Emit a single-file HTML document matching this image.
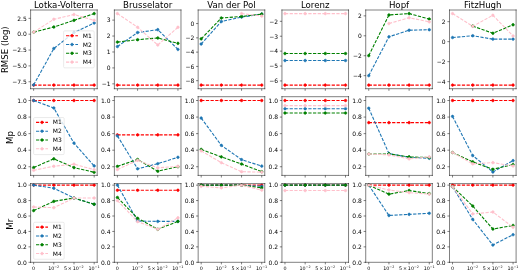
<!DOCTYPE html>
<html><head><meta charset="utf-8"><title>figure</title>
<style>
html,body{margin:0;padding:0;background:#fff;}
body{width:520px;height:272px;overflow:hidden;}
svg{display:block;}

</style></head><body>
<svg width="520" height="272" viewBox="0 0 520 272" version="1.1">
<defs>
<style type="text/css">*{stroke-linejoin: round; stroke-linecap: butt}</style>
</defs>
<g id="figure_1">
<g id="patch_1">
<path d="M 0 272
L 520 272
L 520 0
L 0 0
z
" style="fill: #ffffff"/>
</g>
<g id="axes_1">
<g id="patch_2">
<path d="M 30.6 88.7
L 97.2 88.7
L 97.2 10
L 30.6 10
z
" style="fill: #ffffff"/>
</g>
<g id="matplotlib.axis_1">
<g id="xtick_1">
<g id="line2d_1">
<defs>
<path id="mc1e7c72a07" d="M 0 0
L 0 2.1
" style="stroke: #000000; stroke-width: 0.5"/>
</defs>
<g>
<use href="#mc1e7c72a07" x="33.627273" y="88.7" style="stroke: #000000; stroke-width: 0.5"/>
</g>
</g>
</g>
<g id="xtick_2">
<g id="line2d_2">
<g>
<use href="#mc1e7c72a07" x="53.809091" y="88.7" style="stroke: #000000; stroke-width: 0.5"/>
</g>
</g>
</g>
<g id="xtick_3">
<g id="line2d_3">
<g>
<use href="#mc1e7c72a07" x="73.990909" y="88.7" style="stroke: #000000; stroke-width: 0.5"/>
</g>
</g>
</g>
<g id="xtick_4">
<g id="line2d_4">
<g>
<use href="#mc1e7c72a07" x="94.172727" y="88.7" style="stroke: #000000; stroke-width: 0.5"/>
</g>
</g>
</g>
</g>
<g id="matplotlib.axis_2">
<g id="ytick_1">
<g id="line2d_5">
<defs>
<path id="mff083b0342" d="M 0 0
L -2.1 0
" style="stroke: #000000; stroke-width: 0.5"/>
</defs>
<g>
<use href="#mff083b0342" x="30.6" y="81.761106" style="stroke: #000000; stroke-width: 0.5"/>
</g>
</g>
<g id="text_1">
<text style="font-size: 6px; font-family: 'DejaVu Sans', sans-serif; text-anchor: end" x="26.8" y="84.040637" transform="rotate(-0 26.8 84.040637)">−7.5</text>
</g>
</g>
<g id="ytick_2">
<g id="line2d_6">
<g>
<use href="#mff083b0342" x="30.6" y="65.9044" style="stroke: #000000; stroke-width: 0.5"/>
</g>
</g>
<g id="text_2">
<text style="font-size: 6px; font-family: 'DejaVu Sans', sans-serif; text-anchor: end" x="26.8" y="68.183932" transform="rotate(-0 26.8 68.183932)">−5.0</text>
</g>
</g>
<g id="ytick_3">
<g id="line2d_7">
<g>
<use href="#mff083b0342" x="30.6" y="50.047695" style="stroke: #000000; stroke-width: 0.5"/>
</g>
</g>
<g id="text_3">
<text style="font-size: 6px; font-family: 'DejaVu Sans', sans-serif; text-anchor: end" x="26.8" y="52.327226" transform="rotate(-0 26.8 52.327226)">−2.5</text>
</g>
</g>
<g id="ytick_4">
<g id="line2d_8">
<g>
<use href="#mff083b0342" x="30.6" y="34.19099" style="stroke: #000000; stroke-width: 0.5"/>
</g>
</g>
<g id="text_4">
<text style="font-size: 6px; font-family: 'DejaVu Sans', sans-serif; text-anchor: end" x="26.8" y="36.470521" transform="rotate(-0 26.8 36.470521)">0.0</text>
</g>
</g>
<g id="ytick_5">
<g id="line2d_9">
<g>
<use href="#mff083b0342" x="30.6" y="18.334284" style="stroke: #000000; stroke-width: 0.5"/>
</g>
</g>
<g id="text_5">
<text style="font-size: 6px; font-family: 'DejaVu Sans', sans-serif; text-anchor: end" x="26.8" y="20.613816" transform="rotate(-0 26.8 20.613816)">2.5</text>
</g>
</g>
<g id="text_6">
<text style="font-size: 8.6px; font-family: 'DejaVu Sans', sans-serif; text-anchor: middle" x="8.091781" y="49.7" transform="rotate(-90 8.091781 49.7)">RMSE (log)</text>
</g>
</g>
<g id="line2d_10">
<path d="M 33.627273 85.122727
L 53.809091 85.122727
L 73.990909 85.122727
L 94.172727 85.122727
" clip-path="url(#p066afcdd0b)" style="fill: none; stroke-dasharray: 3.26,1.41; stroke-dashoffset: 0; stroke: #ff0000; stroke-width: 1.1"/>
<defs>
<path id="m0c2da7bb96" d="M 0 1.3
C 0.344764 1.3 0.675454 1.163024 0.919239 0.919239
C 1.163024 0.675454 1.3 0.344764 1.3 0
C 1.3 -0.344764 1.163024 -0.675454 0.919239 -0.919239
C 0.675454 -1.163024 0.344764 -1.3 0 -1.3
C -0.344764 -1.3 -0.675454 -1.163024 -0.919239 -0.919239
C -1.163024 -0.675454 -1.3 -0.344764 -1.3 0
C -1.3 0.344764 -1.163024 0.675454 -0.919239 0.919239
C -0.675454 1.163024 -0.344764 1.3 0 1.3
z
" style="stroke: #ff0000; stroke-width: 0.6"/>
</defs>
<g clip-path="url(#p066afcdd0b)">
<use href="#m0c2da7bb96" x="33.627273" y="85.122727" style="fill: #ff0000; stroke: #ff0000; stroke-width: 0.6"/>
<use href="#m0c2da7bb96" x="53.809091" y="85.122727" style="fill: #ff0000; stroke: #ff0000; stroke-width: 0.6"/>
<use href="#m0c2da7bb96" x="73.990909" y="85.122727" style="fill: #ff0000; stroke: #ff0000; stroke-width: 0.6"/>
<use href="#m0c2da7bb96" x="94.172727" y="85.122727" style="fill: #ff0000; stroke: #ff0000; stroke-width: 0.6"/>
</g>
</g>
<g id="line2d_11">
<path d="M 33.627273 84.932447
L 53.809091 48.525451
L 73.990909 32.541892
L 94.172727 23.027869
" clip-path="url(#p066afcdd0b)" style="fill: none; stroke-dasharray: 3.26,1.41; stroke-dashoffset: 0; stroke: #1f77b4; stroke-width: 1.1"/>
<defs>
<path id="mdfa1281d99" d="M 0 1.3
C 0.344764 1.3 0.675454 1.163024 0.919239 0.919239
C 1.163024 0.675454 1.3 0.344764 1.3 0
C 1.3 -0.344764 1.163024 -0.675454 0.919239 -0.919239
C 0.675454 -1.163024 0.344764 -1.3 0 -1.3
C -0.344764 -1.3 -0.675454 -1.163024 -0.919239 -0.919239
C -1.163024 -0.675454 -1.3 -0.344764 -1.3 0
C -1.3 0.344764 -1.163024 0.675454 -0.919239 0.919239
C -0.675454 1.163024 -0.344764 1.3 0 1.3
z
" style="stroke: #1f77b4; stroke-width: 0.6"/>
</defs>
<g clip-path="url(#p066afcdd0b)">
<use href="#mdfa1281d99" x="33.627273" y="84.932447" style="fill: #1f77b4; stroke: #1f77b4; stroke-width: 0.6"/>
<use href="#mdfa1281d99" x="53.809091" y="48.525451" style="fill: #1f77b4; stroke: #1f77b4; stroke-width: 0.6"/>
<use href="#mdfa1281d99" x="73.990909" y="32.541892" style="fill: #1f77b4; stroke: #1f77b4; stroke-width: 0.6"/>
<use href="#mdfa1281d99" x="94.172727" y="23.027869" style="fill: #1f77b4; stroke: #1f77b4; stroke-width: 0.6"/>
</g>
</g>
<g id="line2d_12">
<path d="M 33.627273 32.161331
L 53.809091 27.023759
L 73.990909 20.363943
L 94.172727 13.577273
" clip-path="url(#p066afcdd0b)" style="fill: none; stroke-dasharray: 3.26,1.41; stroke-dashoffset: 0; stroke: #008000; stroke-width: 1.1"/>
<defs>
<path id="mad946ed612" d="M 0 1.3
C 0.344764 1.3 0.675454 1.163024 0.919239 0.919239
C 1.163024 0.675454 1.3 0.344764 1.3 0
C 1.3 -0.344764 1.163024 -0.675454 0.919239 -0.919239
C 0.675454 -1.163024 0.344764 -1.3 0 -1.3
C -0.344764 -1.3 -0.675454 -1.163024 -0.919239 -0.919239
C -1.163024 -0.675454 -1.3 -0.344764 -1.3 0
C -1.3 0.344764 -1.163024 0.675454 -0.919239 0.919239
C -0.675454 1.163024 -0.344764 1.3 0 1.3
z
" style="stroke: #008000; stroke-width: 0.6"/>
</defs>
<g clip-path="url(#p066afcdd0b)">
<use href="#mad946ed612" x="33.627273" y="32.161331" style="fill: #008000; stroke: #008000; stroke-width: 0.6"/>
<use href="#mad946ed612" x="53.809091" y="27.023759" style="fill: #008000; stroke: #008000; stroke-width: 0.6"/>
<use href="#mad946ed612" x="73.990909" y="20.363943" style="fill: #008000; stroke: #008000; stroke-width: 0.6"/>
<use href="#mad946ed612" x="94.172727" y="13.577273" style="fill: #008000; stroke: #008000; stroke-width: 0.6"/>
</g>
</g>
<g id="line2d_13">
<path d="M 33.627273 32.161331
L 53.809091 19.285687
L 73.990909 14.528675
L 94.172727 20.363943
" clip-path="url(#p066afcdd0b)" style="fill: none; stroke-dasharray: 3.26,1.41; stroke-dashoffset: 0; stroke: #ffc0cb; stroke-width: 1.1"/>
<defs>
<path id="mf36503d7b8" d="M 0 1.3
C 0.344764 1.3 0.675454 1.163024 0.919239 0.919239
C 1.163024 0.675454 1.3 0.344764 1.3 0
C 1.3 -0.344764 1.163024 -0.675454 0.919239 -0.919239
C 0.675454 -1.163024 0.344764 -1.3 0 -1.3
C -0.344764 -1.3 -0.675454 -1.163024 -0.919239 -0.919239
C -1.163024 -0.675454 -1.3 -0.344764 -1.3 0
C -1.3 0.344764 -1.163024 0.675454 -0.919239 0.919239
C -0.675454 1.163024 -0.344764 1.3 0 1.3
z
" style="stroke: #ffc0cb; stroke-width: 0.6"/>
</defs>
<g clip-path="url(#p066afcdd0b)">
<use href="#mf36503d7b8" x="33.627273" y="32.161331" style="fill: #ffc0cb; stroke: #ffc0cb; stroke-width: 0.6"/>
<use href="#mf36503d7b8" x="53.809091" y="19.285687" style="fill: #ffc0cb; stroke: #ffc0cb; stroke-width: 0.6"/>
<use href="#mf36503d7b8" x="73.990909" y="14.528675" style="fill: #ffc0cb; stroke: #ffc0cb; stroke-width: 0.6"/>
<use href="#mf36503d7b8" x="94.172727" y="20.363943" style="fill: #ffc0cb; stroke: #ffc0cb; stroke-width: 0.6"/>
</g>
</g>
<g id="patch_3">
<path d="M 30.6 88.7
L 30.6 10
" style="fill: none; stroke: #000000; stroke-width: 0.5; stroke-linejoin: miter; stroke-linecap: square"/>
</g>
<g id="patch_4">
<path d="M 97.2 88.7
L 97.2 10
" style="fill: none; stroke: #000000; stroke-width: 0.5; stroke-linejoin: miter; stroke-linecap: square"/>
</g>
<g id="patch_5">
<path d="M 30.6 88.7
L 97.2 88.7
" style="fill: none; stroke: #000000; stroke-width: 0.5; stroke-linejoin: miter; stroke-linecap: square"/>
</g>
<g id="patch_6">
<path d="M 30.6 10
L 97.2 10
" style="fill: none; stroke: #000000; stroke-width: 0.5; stroke-linejoin: miter; stroke-linecap: square"/>
</g>
<g id="text_7">
<text style="font-size: 8.65px; font-family: 'DejaVu Sans', sans-serif; text-anchor: middle" x="63.9" y="7.6" transform="rotate(-0 63.9 7.6)">Lotka-Volterra</text>
</g>
<g id="legend_1">
<g id="patch_7">
<path d="M 64.805625 67.86375
L 93 67.86375
Q 94.2 67.86375 94.2 66.66375
L 94.2 32.03625
Q 94.2 30.83625 93 30.83625
L 64.805625 30.83625
Q 63.605625 30.83625 63.605625 32.03625
L 63.605625 66.66375
Q 63.605625 67.86375 64.805625 67.86375
z
" style="fill: #ffffff; opacity: 0.8; stroke: #cccccc; stroke-width: 0.5; stroke-linejoin: miter"/>
</g>
<g id="line2d_14">
<path d="M 66.005625 35.695313
L 72.005625 35.695313
L 78.005625 35.695313
" style="fill: none; stroke-dasharray: 3.26,1.41; stroke-dashoffset: 0; stroke: #ff0000; stroke-width: 1.1"/>
<g>
<use href="#m0c2da7bb96" x="72.005625" y="35.695313" style="fill: #ff0000; stroke: #ff0000; stroke-width: 0.6"/>
</g>
</g>
<g id="text_8">
<text style="font-size: 6px; font-family: 'DejaVu Sans', sans-serif; text-anchor: start" x="82.805625" y="37.795313" transform="rotate(-0 82.805625 37.795313)">M1</text>
</g>
<g id="line2d_15">
<path d="M 66.005625 44.502188
L 72.005625 44.502188
L 78.005625 44.502188
" style="fill: none; stroke-dasharray: 3.26,1.41; stroke-dashoffset: 0; stroke: #1f77b4; stroke-width: 1.1"/>
<g>
<use href="#mdfa1281d99" x="72.005625" y="44.502188" style="fill: #1f77b4; stroke: #1f77b4; stroke-width: 0.6"/>
</g>
</g>
<g id="text_9">
<text style="font-size: 6px; font-family: 'DejaVu Sans', sans-serif; text-anchor: start" x="82.805625" y="46.602188" transform="rotate(-0 82.805625 46.602188)">M2</text>
</g>
<g id="line2d_16">
<path d="M 66.005625 53.309063
L 72.005625 53.309063
L 78.005625 53.309063
" style="fill: none; stroke-dasharray: 3.26,1.41; stroke-dashoffset: 0; stroke: #008000; stroke-width: 1.1"/>
<g>
<use href="#mad946ed612" x="72.005625" y="53.309063" style="fill: #008000; stroke: #008000; stroke-width: 0.6"/>
</g>
</g>
<g id="text_10">
<text style="font-size: 6px; font-family: 'DejaVu Sans', sans-serif; text-anchor: start" x="82.805625" y="55.409063" transform="rotate(-0 82.805625 55.409063)">M3</text>
</g>
<g id="line2d_17">
<path d="M 66.005625 62.115938
L 72.005625 62.115938
L 78.005625 62.115938
" style="fill: none; stroke-dasharray: 3.26,1.41; stroke-dashoffset: 0; stroke: #ffc0cb; stroke-width: 1.1"/>
<g>
<use href="#mf36503d7b8" x="72.005625" y="62.115938" style="fill: #ffc0cb; stroke: #ffc0cb; stroke-width: 0.6"/>
</g>
</g>
<g id="text_11">
<text style="font-size: 6px; font-family: 'DejaVu Sans', sans-serif; text-anchor: start" x="82.805625" y="64.215938" transform="rotate(-0 82.805625 64.215938)">M4</text>
</g>
</g>
</g>
<g id="axes_2">
<g id="patch_8">
<path d="M 114.38 88.7
L 180.98 88.7
L 180.98 10
L 114.38 10
z
" style="fill: #ffffff"/>
</g>
<g id="matplotlib.axis_3">
<g id="xtick_5">
<g id="line2d_18">
<g>
<use href="#mc1e7c72a07" x="117.407273" y="88.7" style="stroke: #000000; stroke-width: 0.5"/>
</g>
</g>
</g>
<g id="xtick_6">
<g id="line2d_19">
<g>
<use href="#mc1e7c72a07" x="137.589091" y="88.7" style="stroke: #000000; stroke-width: 0.5"/>
</g>
</g>
</g>
<g id="xtick_7">
<g id="line2d_20">
<g>
<use href="#mc1e7c72a07" x="157.770909" y="88.7" style="stroke: #000000; stroke-width: 0.5"/>
</g>
</g>
</g>
<g id="xtick_8">
<g id="line2d_21">
<g>
<use href="#mc1e7c72a07" x="177.952727" y="88.7" style="stroke: #000000; stroke-width: 0.5"/>
</g>
</g>
</g>
</g>
<g id="matplotlib.axis_4">
<g id="ytick_6">
<g id="line2d_22">
<g>
<use href="#mff083b0342" x="114.38" y="83.847975" style="stroke: #000000; stroke-width: 0.5"/>
</g>
</g>
<g id="text_12">
<text style="font-size: 6px; font-family: 'DejaVu Sans', sans-serif; text-anchor: end" x="110.58" y="86.127507" transform="rotate(-0 110.58 86.127507)">−1</text>
</g>
</g>
<g id="ytick_7">
<g id="line2d_23">
<g>
<use href="#mff083b0342" x="114.38" y="67.913576" style="stroke: #000000; stroke-width: 0.5"/>
</g>
</g>
<g id="text_13">
<text style="font-size: 6px; font-family: 'DejaVu Sans', sans-serif; text-anchor: end" x="110.58" y="70.193107" transform="rotate(-0 110.58 70.193107)">0</text>
</g>
</g>
<g id="ytick_8">
<g id="line2d_24">
<g>
<use href="#mff083b0342" x="114.38" y="51.979176" style="stroke: #000000; stroke-width: 0.5"/>
</g>
</g>
<g id="text_14">
<text style="font-size: 6px; font-family: 'DejaVu Sans', sans-serif; text-anchor: end" x="110.58" y="54.258707" transform="rotate(-0 110.58 54.258707)">1</text>
</g>
</g>
<g id="ytick_9">
<g id="line2d_25">
<g>
<use href="#mff083b0342" x="114.38" y="36.044776" style="stroke: #000000; stroke-width: 0.5"/>
</g>
</g>
<g id="text_15">
<text style="font-size: 6px; font-family: 'DejaVu Sans', sans-serif; text-anchor: end" x="110.58" y="38.324308" transform="rotate(-0 110.58 38.324308)">2</text>
</g>
</g>
<g id="ytick_10">
<g id="line2d_26">
<g>
<use href="#mff083b0342" x="114.38" y="20.110377" style="stroke: #000000; stroke-width: 0.5"/>
</g>
</g>
<g id="text_16">
<text style="font-size: 6px; font-family: 'DejaVu Sans', sans-serif; text-anchor: end" x="110.58" y="22.389908" transform="rotate(-0 110.58 22.389908)">3</text>
</g>
</g>
</g>
<g id="line2d_27">
<path d="M 117.407273 85.122727
L 137.589091 85.122727
L 157.770909 85.122727
L 177.952727 85.122727
" clip-path="url(#pb746cd22af)" style="fill: none; stroke-dasharray: 3.26,1.41; stroke-dashoffset: 0; stroke: #ff0000; stroke-width: 1.1"/>
<g clip-path="url(#pb746cd22af)">
<use href="#m0c2da7bb96" x="117.407273" y="85.122727" style="fill: #ff0000; stroke: #ff0000; stroke-width: 0.6"/>
<use href="#m0c2da7bb96" x="137.589091" y="85.122727" style="fill: #ff0000; stroke: #ff0000; stroke-width: 0.6"/>
<use href="#m0c2da7bb96" x="157.770909" y="85.122727" style="fill: #ff0000; stroke: #ff0000; stroke-width: 0.6"/>
<use href="#m0c2da7bb96" x="177.952727" y="85.122727" style="fill: #ff0000; stroke: #ff0000; stroke-width: 0.6"/>
</g>
</g>
<g id="line2d_28">
<path d="M 117.407273 46.56148
L 137.589091 32.539208
L 157.770909 29.671016
L 177.952727 49.429672
" clip-path="url(#pb746cd22af)" style="fill: none; stroke-dasharray: 3.26,1.41; stroke-dashoffset: 0; stroke: #1f77b4; stroke-width: 1.1"/>
<g clip-path="url(#pb746cd22af)">
<use href="#mdfa1281d99" x="117.407273" y="46.56148" style="fill: #1f77b4; stroke: #1f77b4; stroke-width: 0.6"/>
<use href="#mdfa1281d99" x="137.589091" y="32.539208" style="fill: #1f77b4; stroke: #1f77b4; stroke-width: 0.6"/>
<use href="#mdfa1281d99" x="157.770909" y="29.671016" style="fill: #1f77b4; stroke: #1f77b4; stroke-width: 0.6"/>
<use href="#mdfa1281d99" x="177.952727" y="49.429672" style="fill: #1f77b4; stroke: #1f77b4; stroke-width: 0.6"/>
</g>
</g>
<g id="line2d_29">
<path d="M 117.407273 42.099848
L 137.589091 39.709688
L 157.770909 37.956904
L 177.952727 43.3746
" clip-path="url(#pb746cd22af)" style="fill: none; stroke-dasharray: 3.26,1.41; stroke-dashoffset: 0; stroke: #008000; stroke-width: 1.1"/>
<g clip-path="url(#pb746cd22af)">
<use href="#mad946ed612" x="117.407273" y="42.099848" style="fill: #008000; stroke: #008000; stroke-width: 0.6"/>
<use href="#mad946ed612" x="137.589091" y="39.709688" style="fill: #008000; stroke: #008000; stroke-width: 0.6"/>
<use href="#mad946ed612" x="157.770909" y="37.956904" style="fill: #008000; stroke: #008000; stroke-width: 0.6"/>
<use href="#mad946ed612" x="177.952727" y="43.3746" style="fill: #008000; stroke: #008000; stroke-width: 0.6"/>
</g>
</g>
<g id="line2d_30">
<path d="M 117.407273 13.577273
L 137.589091 27.280856
L 157.770909 44.96804
L 177.952727 27.280856
" clip-path="url(#pb746cd22af)" style="fill: none; stroke-dasharray: 3.26,1.41; stroke-dashoffset: 0; stroke: #ffc0cb; stroke-width: 1.1"/>
<g clip-path="url(#pb746cd22af)">
<use href="#mf36503d7b8" x="117.407273" y="13.577273" style="fill: #ffc0cb; stroke: #ffc0cb; stroke-width: 0.6"/>
<use href="#mf36503d7b8" x="137.589091" y="27.280856" style="fill: #ffc0cb; stroke: #ffc0cb; stroke-width: 0.6"/>
<use href="#mf36503d7b8" x="157.770909" y="44.96804" style="fill: #ffc0cb; stroke: #ffc0cb; stroke-width: 0.6"/>
<use href="#mf36503d7b8" x="177.952727" y="27.280856" style="fill: #ffc0cb; stroke: #ffc0cb; stroke-width: 0.6"/>
</g>
</g>
<g id="patch_9">
<path d="M 114.38 88.7
L 114.38 10
" style="fill: none; stroke: #000000; stroke-width: 0.5; stroke-linejoin: miter; stroke-linecap: square"/>
</g>
<g id="patch_10">
<path d="M 180.98 88.7
L 180.98 10
" style="fill: none; stroke: #000000; stroke-width: 0.5; stroke-linejoin: miter; stroke-linecap: square"/>
</g>
<g id="patch_11">
<path d="M 114.38 88.7
L 180.98 88.7
" style="fill: none; stroke: #000000; stroke-width: 0.5; stroke-linejoin: miter; stroke-linecap: square"/>
</g>
<g id="patch_12">
<path d="M 114.38 10
L 180.98 10
" style="fill: none; stroke: #000000; stroke-width: 0.5; stroke-linejoin: miter; stroke-linecap: square"/>
</g>
<g id="text_17">
<text style="font-size: 8.65px; font-family: 'DejaVu Sans', sans-serif; text-anchor: middle" x="147.68" y="7.6" transform="rotate(-0 147.68 7.6)">Brusselator</text>
</g>
</g>
<g id="axes_3">
<g id="patch_13">
<path d="M 198.16 88.7
L 264.76 88.7
L 264.76 10
L 198.16 10
z
" style="fill: #ffffff"/>
</g>
<g id="matplotlib.axis_5">
<g id="xtick_9">
<g id="line2d_31">
<g>
<use href="#mc1e7c72a07" x="201.187273" y="88.7" style="stroke: #000000; stroke-width: 0.5"/>
</g>
</g>
</g>
<g id="xtick_10">
<g id="line2d_32">
<g>
<use href="#mc1e7c72a07" x="221.369091" y="88.7" style="stroke: #000000; stroke-width: 0.5"/>
</g>
</g>
</g>
<g id="xtick_11">
<g id="line2d_33">
<g>
<use href="#mc1e7c72a07" x="241.550909" y="88.7" style="stroke: #000000; stroke-width: 0.5"/>
</g>
</g>
</g>
<g id="xtick_12">
<g id="line2d_34">
<g>
<use href="#mc1e7c72a07" x="261.732727" y="88.7" style="stroke: #000000; stroke-width: 0.5"/>
</g>
</g>
</g>
</g>
<g id="matplotlib.axis_6">
<g id="ytick_11">
<g id="line2d_35">
<g>
<use href="#mff083b0342" x="198.16" y="80.695763" style="stroke: #000000; stroke-width: 0.5"/>
</g>
</g>
<g id="text_18">
<text style="font-size: 6px; font-family: 'DejaVu Sans', sans-serif; text-anchor: end" x="194.36" y="82.975294" transform="rotate(-0 194.36 82.975294)">−8</text>
</g>
</g>
<g id="ytick_12">
<g id="line2d_36">
<g>
<use href="#mff083b0342" x="198.16" y="66.415233" style="stroke: #000000; stroke-width: 0.5"/>
</g>
</g>
<g id="text_19">
<text style="font-size: 6px; font-family: 'DejaVu Sans', sans-serif; text-anchor: end" x="194.36" y="68.694764" transform="rotate(-0 194.36 68.694764)">−6</text>
</g>
</g>
<g id="ytick_13">
<g id="line2d_37">
<g>
<use href="#mff083b0342" x="198.16" y="52.134703" style="stroke: #000000; stroke-width: 0.5"/>
</g>
</g>
<g id="text_20">
<text style="font-size: 6px; font-family: 'DejaVu Sans', sans-serif; text-anchor: end" x="194.36" y="54.414235" transform="rotate(-0 194.36 54.414235)">−4</text>
</g>
</g>
<g id="ytick_14">
<g id="line2d_38">
<g>
<use href="#mff083b0342" x="198.16" y="37.854173" style="stroke: #000000; stroke-width: 0.5"/>
</g>
</g>
<g id="text_21">
<text style="font-size: 6px; font-family: 'DejaVu Sans', sans-serif; text-anchor: end" x="194.36" y="40.133705" transform="rotate(-0 194.36 40.133705)">−2</text>
</g>
</g>
<g id="ytick_15">
<g id="line2d_39">
<g>
<use href="#mff083b0342" x="198.16" y="23.573644" style="stroke: #000000; stroke-width: 0.5"/>
</g>
</g>
<g id="text_22">
<text style="font-size: 6px; font-family: 'DejaVu Sans', sans-serif; text-anchor: end" x="194.36" y="25.853175" transform="rotate(-0 194.36 25.853175)">0</text>
</g>
</g>
</g>
<g id="line2d_40">
<path d="M 201.187273 85.122727
L 221.369091 85.122727
L 241.550909 85.122727
L 261.732727 85.122727
" clip-path="url(#p86863a7c96)" style="fill: none; stroke-dasharray: 3.26,1.41; stroke-dashoffset: 0; stroke: #ff0000; stroke-width: 1.1"/>
<g clip-path="url(#p86863a7c96)">
<use href="#m0c2da7bb96" x="201.187273" y="85.122727" style="fill: #ff0000; stroke: #ff0000; stroke-width: 0.6"/>
<use href="#m0c2da7bb96" x="221.369091" y="85.122727" style="fill: #ff0000; stroke: #ff0000; stroke-width: 0.6"/>
<use href="#m0c2da7bb96" x="241.550909" y="85.122727" style="fill: #ff0000; stroke: #ff0000; stroke-width: 0.6"/>
<use href="#m0c2da7bb96" x="261.732727" y="85.122727" style="fill: #ff0000; stroke: #ff0000; stroke-width: 0.6"/>
</g>
</g>
<g id="line2d_41">
<path d="M 201.187273 43.994801
L 221.369091 21.502967
L 241.550909 17.076003
L 261.732727 14.148494
" clip-path="url(#p86863a7c96)" style="fill: none; stroke-dasharray: 3.26,1.41; stroke-dashoffset: 0; stroke: #1f77b4; stroke-width: 1.1"/>
<g clip-path="url(#p86863a7c96)">
<use href="#mdfa1281d99" x="201.187273" y="43.994801" style="fill: #1f77b4; stroke: #1f77b4; stroke-width: 0.6"/>
<use href="#mdfa1281d99" x="221.369091" y="21.502967" style="fill: #1f77b4; stroke: #1f77b4; stroke-width: 0.6"/>
<use href="#mdfa1281d99" x="241.550909" y="17.076003" style="fill: #1f77b4; stroke: #1f77b4; stroke-width: 0.6"/>
<use href="#mdfa1281d99" x="261.732727" y="14.148494" style="fill: #1f77b4; stroke: #1f77b4; stroke-width: 0.6"/>
</g>
</g>
<g id="line2d_42">
<path d="M 201.187273 38.853811
L 221.369091 17.968536
L 241.550909 16.46908
L 261.732727 14.148494
" clip-path="url(#p86863a7c96)" style="fill: none; stroke-dasharray: 3.26,1.41; stroke-dashoffset: 0; stroke: #008000; stroke-width: 1.1"/>
<g clip-path="url(#p86863a7c96)">
<use href="#mad946ed612" x="201.187273" y="38.853811" style="fill: #008000; stroke: #008000; stroke-width: 0.6"/>
<use href="#mad946ed612" x="221.369091" y="17.968536" style="fill: #008000; stroke: #008000; stroke-width: 0.6"/>
<use href="#mad946ed612" x="241.550909" y="16.46908" style="fill: #008000; stroke: #008000; stroke-width: 0.6"/>
<use href="#mad946ed612" x="261.732727" y="14.148494" style="fill: #008000; stroke: #008000; stroke-width: 0.6"/>
</g>
</g>
<g id="line2d_43">
<path d="M 241.550909 13.577273
L 261.732727 16.076365
" clip-path="url(#p86863a7c96)" style="fill: none; stroke-dasharray: 3.26,1.41; stroke-dashoffset: 0; stroke: #ffc0cb; stroke-width: 1.1"/>
<g clip-path="url(#p86863a7c96)">
<use href="#mf36503d7b8" x="241.550909" y="13.577273" style="fill: #ffc0cb; stroke: #ffc0cb; stroke-width: 0.6"/>
<use href="#mf36503d7b8" x="261.732727" y="16.076365" style="fill: #ffc0cb; stroke: #ffc0cb; stroke-width: 0.6"/>
</g>
</g>
<g id="patch_14">
<path d="M 198.16 88.7
L 198.16 10
" style="fill: none; stroke: #000000; stroke-width: 0.5; stroke-linejoin: miter; stroke-linecap: square"/>
</g>
<g id="patch_15">
<path d="M 264.76 88.7
L 264.76 10
" style="fill: none; stroke: #000000; stroke-width: 0.5; stroke-linejoin: miter; stroke-linecap: square"/>
</g>
<g id="patch_16">
<path d="M 198.16 88.7
L 264.76 88.7
" style="fill: none; stroke: #000000; stroke-width: 0.5; stroke-linejoin: miter; stroke-linecap: square"/>
</g>
<g id="patch_17">
<path d="M 198.16 10
L 264.76 10
" style="fill: none; stroke: #000000; stroke-width: 0.5; stroke-linejoin: miter; stroke-linecap: square"/>
</g>
<g id="text_23">
<text style="font-size: 8.65px; font-family: 'DejaVu Sans', sans-serif; text-anchor: middle" x="231.46" y="7.6" transform="rotate(-0 231.46 7.6)">Van der Pol</text>
</g>
</g>
<g id="axes_4">
<g id="patch_18">
<path d="M 281.94 88.7
L 348.54 88.7
L 348.54 10
L 281.94 10
z
" style="fill: #ffffff"/>
</g>
<g id="matplotlib.axis_7">
<g id="xtick_13">
<g id="line2d_44">
<g>
<use href="#mc1e7c72a07" x="284.967273" y="88.7" style="stroke: #000000; stroke-width: 0.5"/>
</g>
</g>
</g>
<g id="xtick_14">
<g id="line2d_45">
<g>
<use href="#mc1e7c72a07" x="305.149091" y="88.7" style="stroke: #000000; stroke-width: 0.5"/>
</g>
</g>
</g>
<g id="xtick_15">
<g id="line2d_46">
<g>
<use href="#mc1e7c72a07" x="325.330909" y="88.7" style="stroke: #000000; stroke-width: 0.5"/>
</g>
</g>
</g>
<g id="xtick_16">
<g id="line2d_47">
<g>
<use href="#mc1e7c72a07" x="345.512727" y="88.7" style="stroke: #000000; stroke-width: 0.5"/>
</g>
</g>
</g>
</g>
<g id="matplotlib.axis_8">
<g id="ytick_16">
<g id="line2d_48">
<g>
<use href="#mff083b0342" x="281.94" y="80.949242" style="stroke: #000000; stroke-width: 0.5"/>
</g>
</g>
<g id="text_24">
<text style="font-size: 6px; font-family: 'DejaVu Sans', sans-serif; text-anchor: end" x="278.14" y="83.228774" transform="rotate(-0 278.14 83.228774)">−6</text>
</g>
</g>
<g id="ytick_17">
<g id="line2d_49">
<g>
<use href="#mff083b0342" x="281.94" y="66.043939" style="stroke: #000000; stroke-width: 0.5"/>
</g>
</g>
<g id="text_25">
<text style="font-size: 6px; font-family: 'DejaVu Sans', sans-serif; text-anchor: end" x="278.14" y="68.323471" transform="rotate(-0 278.14 68.323471)">−5</text>
</g>
</g>
<g id="ytick_18">
<g id="line2d_50">
<g>
<use href="#mff083b0342" x="281.94" y="51.138636" style="stroke: #000000; stroke-width: 0.5"/>
</g>
</g>
<g id="text_26">
<text style="font-size: 6px; font-family: 'DejaVu Sans', sans-serif; text-anchor: end" x="278.14" y="53.418168" transform="rotate(-0 278.14 53.418168)">−4</text>
</g>
</g>
<g id="ytick_19">
<g id="line2d_51">
<g>
<use href="#mff083b0342" x="281.94" y="36.233333" style="stroke: #000000; stroke-width: 0.5"/>
</g>
</g>
<g id="text_27">
<text style="font-size: 6px; font-family: 'DejaVu Sans', sans-serif; text-anchor: end" x="278.14" y="38.512865" transform="rotate(-0 278.14 38.512865)">−3</text>
</g>
</g>
<g id="ytick_20">
<g id="line2d_52">
<g>
<use href="#mff083b0342" x="281.94" y="21.32803" style="stroke: #000000; stroke-width: 0.5"/>
</g>
</g>
<g id="text_28">
<text style="font-size: 6px; font-family: 'DejaVu Sans', sans-serif; text-anchor: end" x="278.14" y="23.607562" transform="rotate(-0 278.14 23.607562)">−2</text>
</g>
</g>
</g>
<g id="line2d_53">
<path d="M 284.967273 85.122727
L 305.149091 85.122727
L 325.330909 85.122727
L 345.512727 85.122727
" clip-path="url(#p676d39e075)" style="fill: none; stroke-dasharray: 3.26,1.41; stroke-dashoffset: 0; stroke: #ff0000; stroke-width: 1.1"/>
<g clip-path="url(#p676d39e075)">
<use href="#m0c2da7bb96" x="284.967273" y="85.122727" style="fill: #ff0000; stroke: #ff0000; stroke-width: 0.6"/>
<use href="#m0c2da7bb96" x="305.149091" y="85.122727" style="fill: #ff0000; stroke: #ff0000; stroke-width: 0.6"/>
<use href="#m0c2da7bb96" x="325.330909" y="85.122727" style="fill: #ff0000; stroke: #ff0000; stroke-width: 0.6"/>
<use href="#m0c2da7bb96" x="345.512727" y="85.122727" style="fill: #ff0000; stroke: #ff0000; stroke-width: 0.6"/>
</g>
</g>
<g id="line2d_54">
<path d="M 284.967273 60.528977
L 305.149091 60.528977
L 325.330909 60.528977
L 345.512727 60.528977
" clip-path="url(#p676d39e075)" style="fill: none; stroke-dasharray: 3.26,1.41; stroke-dashoffset: 0; stroke: #1f77b4; stroke-width: 1.1"/>
<g clip-path="url(#p676d39e075)">
<use href="#mdfa1281d99" x="284.967273" y="60.528977" style="fill: #1f77b4; stroke: #1f77b4; stroke-width: 0.6"/>
<use href="#mdfa1281d99" x="305.149091" y="60.528977" style="fill: #1f77b4; stroke: #1f77b4; stroke-width: 0.6"/>
<use href="#mdfa1281d99" x="325.330909" y="60.528977" style="fill: #1f77b4; stroke: #1f77b4; stroke-width: 0.6"/>
<use href="#mdfa1281d99" x="345.512727" y="60.528977" style="fill: #1f77b4; stroke: #1f77b4; stroke-width: 0.6"/>
</g>
</g>
<g id="line2d_55">
<path d="M 284.967273 53.523485
L 305.149091 53.523485
L 325.330909 53.523485
L 345.512727 53.523485
" clip-path="url(#p676d39e075)" style="fill: none; stroke-dasharray: 3.26,1.41; stroke-dashoffset: 0; stroke: #008000; stroke-width: 1.1"/>
<g clip-path="url(#p676d39e075)">
<use href="#mad946ed612" x="284.967273" y="53.523485" style="fill: #008000; stroke: #008000; stroke-width: 0.6"/>
<use href="#mad946ed612" x="305.149091" y="53.523485" style="fill: #008000; stroke: #008000; stroke-width: 0.6"/>
<use href="#mad946ed612" x="325.330909" y="53.523485" style="fill: #008000; stroke: #008000; stroke-width: 0.6"/>
<use href="#mad946ed612" x="345.512727" y="53.523485" style="fill: #008000; stroke: #008000; stroke-width: 0.6"/>
</g>
</g>
<g id="line2d_56">
<path d="M 284.967273 13.577273
L 305.149091 13.577273
L 325.330909 13.577273
L 345.512727 13.577273
" clip-path="url(#p676d39e075)" style="fill: none; stroke-dasharray: 3.26,1.41; stroke-dashoffset: 0; stroke: #ffc0cb; stroke-width: 1.1"/>
<g clip-path="url(#p676d39e075)">
<use href="#mf36503d7b8" x="284.967273" y="13.577273" style="fill: #ffc0cb; stroke: #ffc0cb; stroke-width: 0.6"/>
<use href="#mf36503d7b8" x="305.149091" y="13.577273" style="fill: #ffc0cb; stroke: #ffc0cb; stroke-width: 0.6"/>
<use href="#mf36503d7b8" x="325.330909" y="13.577273" style="fill: #ffc0cb; stroke: #ffc0cb; stroke-width: 0.6"/>
<use href="#mf36503d7b8" x="345.512727" y="13.577273" style="fill: #ffc0cb; stroke: #ffc0cb; stroke-width: 0.6"/>
</g>
</g>
<g id="patch_19">
<path d="M 281.94 88.7
L 281.94 10
" style="fill: none; stroke: #000000; stroke-width: 0.5; stroke-linejoin: miter; stroke-linecap: square"/>
</g>
<g id="patch_20">
<path d="M 348.54 88.7
L 348.54 10
" style="fill: none; stroke: #000000; stroke-width: 0.5; stroke-linejoin: miter; stroke-linecap: square"/>
</g>
<g id="patch_21">
<path d="M 281.94 88.7
L 348.54 88.7
" style="fill: none; stroke: #000000; stroke-width: 0.5; stroke-linejoin: miter; stroke-linecap: square"/>
</g>
<g id="patch_22">
<path d="M 281.94 10
L 348.54 10
" style="fill: none; stroke: #000000; stroke-width: 0.5; stroke-linejoin: miter; stroke-linecap: square"/>
</g>
<g id="text_29">
<text style="font-size: 8.65px; font-family: 'DejaVu Sans', sans-serif; text-anchor: middle" x="315.24" y="7.6" transform="rotate(-0 315.24 7.6)">Lorenz</text>
</g>
</g>
<g id="axes_5">
<g id="patch_23">
<path d="M 365.72 88.7
L 432.32 88.7
L 432.32 10
L 365.72 10
z
" style="fill: #ffffff"/>
</g>
<g id="matplotlib.axis_9">
<g id="xtick_17">
<g id="line2d_57">
<g>
<use href="#mc1e7c72a07" x="368.747273" y="88.7" style="stroke: #000000; stroke-width: 0.5"/>
</g>
</g>
</g>
<g id="xtick_18">
<g id="line2d_58">
<g>
<use href="#mc1e7c72a07" x="388.929091" y="88.7" style="stroke: #000000; stroke-width: 0.5"/>
</g>
</g>
</g>
<g id="xtick_19">
<g id="line2d_59">
<g>
<use href="#mc1e7c72a07" x="409.110909" y="88.7" style="stroke: #000000; stroke-width: 0.5"/>
</g>
</g>
</g>
<g id="xtick_20">
<g id="line2d_60">
<g>
<use href="#mc1e7c72a07" x="429.292727" y="88.7" style="stroke: #000000; stroke-width: 0.5"/>
</g>
</g>
</g>
</g>
<g id="matplotlib.axis_10">
<g id="ytick_21">
<g id="line2d_61">
<g>
<use href="#mff083b0342" x="365.72" y="75.656407" style="stroke: #000000; stroke-width: 0.5"/>
</g>
</g>
<g id="text_30">
<text style="font-size: 6px; font-family: 'DejaVu Sans', sans-serif; text-anchor: end" x="361.92" y="77.935938" transform="rotate(-0 361.92 77.935938)">−4</text>
</g>
</g>
<g id="ytick_22">
<g id="line2d_62">
<g>
<use href="#mff083b0342" x="365.72" y="55.727311" style="stroke: #000000; stroke-width: 0.5"/>
</g>
</g>
<g id="text_31">
<text style="font-size: 6px; font-family: 'DejaVu Sans', sans-serif; text-anchor: end" x="361.92" y="58.006842" transform="rotate(-0 361.92 58.006842)">−2</text>
</g>
</g>
<g id="ytick_23">
<g id="line2d_63">
<g>
<use href="#mff083b0342" x="365.72" y="35.798215" style="stroke: #000000; stroke-width: 0.5"/>
</g>
</g>
<g id="text_32">
<text style="font-size: 6px; font-family: 'DejaVu Sans', sans-serif; text-anchor: end" x="361.92" y="38.077746" transform="rotate(-0 361.92 38.077746)">0</text>
</g>
</g>
<g id="ytick_24">
<g id="line2d_64">
<g>
<use href="#mff083b0342" x="365.72" y="15.869119" style="stroke: #000000; stroke-width: 0.5"/>
</g>
</g>
<g id="text_33">
<text style="font-size: 6px; font-family: 'DejaVu Sans', sans-serif; text-anchor: end" x="361.92" y="18.14865" transform="rotate(-0 361.92 18.14865)">2</text>
</g>
</g>
</g>
<g id="line2d_65">
<path d="M 368.747273 85.122727
L 388.929091 85.122727
L 409.110909 85.122727
L 429.292727 85.122727
" clip-path="url(#p4946559e43)" style="fill: none; stroke-dasharray: 3.26,1.41; stroke-dashoffset: 0; stroke: #ff0000; stroke-width: 1.1"/>
<g clip-path="url(#p4946559e43)">
<use href="#m0c2da7bb96" x="368.747273" y="85.122727" style="fill: #ff0000; stroke: #ff0000; stroke-width: 0.6"/>
<use href="#m0c2da7bb96" x="388.929091" y="85.122727" style="fill: #ff0000; stroke: #ff0000; stroke-width: 0.6"/>
<use href="#m0c2da7bb96" x="409.110909" y="85.122727" style="fill: #ff0000; stroke: #ff0000; stroke-width: 0.6"/>
<use href="#m0c2da7bb96" x="429.292727" y="85.122727" style="fill: #ff0000; stroke: #ff0000; stroke-width: 0.6"/>
</g>
</g>
<g id="line2d_66">
<path d="M 368.747273 75.656407
L 388.929091 36.79467
L 409.110909 30.218068
L 429.292727 29.71984
" clip-path="url(#p4946559e43)" style="fill: none; stroke-dasharray: 3.26,1.41; stroke-dashoffset: 0; stroke: #1f77b4; stroke-width: 1.1"/>
<g clip-path="url(#p4946559e43)">
<use href="#mdfa1281d99" x="368.747273" y="75.656407" style="fill: #1f77b4; stroke: #1f77b4; stroke-width: 0.6"/>
<use href="#mdfa1281d99" x="388.929091" y="36.79467" style="fill: #1f77b4; stroke: #1f77b4; stroke-width: 0.6"/>
<use href="#mdfa1281d99" x="409.110909" y="30.218068" style="fill: #1f77b4; stroke: #1f77b4; stroke-width: 0.6"/>
<use href="#mdfa1281d99" x="429.292727" y="29.71984" style="fill: #1f77b4; stroke: #1f77b4; stroke-width: 0.6"/>
</g>
</g>
<g id="line2d_67">
<path d="M 368.747273 55.627665
L 388.929091 14.972309
L 409.110909 13.577273
L 429.292727 19.057774
" clip-path="url(#p4946559e43)" style="fill: none; stroke-dasharray: 3.26,1.41; stroke-dashoffset: 0; stroke: #008000; stroke-width: 1.1"/>
<g clip-path="url(#p4946559e43)">
<use href="#mad946ed612" x="368.747273" y="55.627665" style="fill: #008000; stroke: #008000; stroke-width: 0.6"/>
<use href="#mad946ed612" x="388.929091" y="14.972309" style="fill: #008000; stroke: #008000; stroke-width: 0.6"/>
<use href="#mad946ed612" x="409.110909" y="13.577273" style="fill: #008000; stroke: #008000; stroke-width: 0.6"/>
<use href="#mad946ed612" x="429.292727" y="19.057774" style="fill: #008000; stroke: #008000; stroke-width: 0.6"/>
</g>
</g>
<g id="line2d_68">
<path d="M 388.929091 23.541821
L 409.110909 17.762383
L 429.292727 21.847848
" clip-path="url(#p4946559e43)" style="fill: none; stroke-dasharray: 3.26,1.41; stroke-dashoffset: 0; stroke: #ffc0cb; stroke-width: 1.1"/>
<g clip-path="url(#p4946559e43)">
<use href="#mf36503d7b8" x="388.929091" y="23.541821" style="fill: #ffc0cb; stroke: #ffc0cb; stroke-width: 0.6"/>
<use href="#mf36503d7b8" x="409.110909" y="17.762383" style="fill: #ffc0cb; stroke: #ffc0cb; stroke-width: 0.6"/>
<use href="#mf36503d7b8" x="429.292727" y="21.847848" style="fill: #ffc0cb; stroke: #ffc0cb; stroke-width: 0.6"/>
</g>
</g>
<g id="patch_24">
<path d="M 365.72 88.7
L 365.72 10
" style="fill: none; stroke: #000000; stroke-width: 0.5; stroke-linejoin: miter; stroke-linecap: square"/>
</g>
<g id="patch_25">
<path d="M 432.32 88.7
L 432.32 10
" style="fill: none; stroke: #000000; stroke-width: 0.5; stroke-linejoin: miter; stroke-linecap: square"/>
</g>
<g id="patch_26">
<path d="M 365.72 88.7
L 432.32 88.7
" style="fill: none; stroke: #000000; stroke-width: 0.5; stroke-linejoin: miter; stroke-linecap: square"/>
</g>
<g id="patch_27">
<path d="M 365.72 10
L 432.32 10
" style="fill: none; stroke: #000000; stroke-width: 0.5; stroke-linejoin: miter; stroke-linecap: square"/>
</g>
<g id="text_34">
<text style="font-size: 8.65px; font-family: 'DejaVu Sans', sans-serif; text-anchor: middle" x="399.02" y="7.6" transform="rotate(-0 399.02 7.6)">Hopf</text>
</g>
</g>
<g id="axes_6">
<g id="patch_28">
<path d="M 449.5 88.7
L 516.1 88.7
L 516.1 10
L 449.5 10
z
" style="fill: #ffffff"/>
</g>
<g id="matplotlib.axis_11">
<g id="xtick_21">
<g id="line2d_69">
<g>
<use href="#mc1e7c72a07" x="452.527273" y="88.7" style="stroke: #000000; stroke-width: 0.5"/>
</g>
</g>
</g>
<g id="xtick_22">
<g id="line2d_70">
<g>
<use href="#mc1e7c72a07" x="472.709091" y="88.7" style="stroke: #000000; stroke-width: 0.5"/>
</g>
</g>
</g>
<g id="xtick_23">
<g id="line2d_71">
<g>
<use href="#mc1e7c72a07" x="492.890909" y="88.7" style="stroke: #000000; stroke-width: 0.5"/>
</g>
</g>
</g>
<g id="xtick_24">
<g id="line2d_72">
<g>
<use href="#mc1e7c72a07" x="513.072727" y="88.7" style="stroke: #000000; stroke-width: 0.5"/>
</g>
</g>
</g>
</g>
<g id="matplotlib.axis_12">
<g id="ytick_25">
<g id="line2d_73">
<g>
<use href="#mff083b0342" x="449.5" y="81.625394" style="stroke: #000000; stroke-width: 0.5"/>
</g>
</g>
<g id="text_35">
<text style="font-size: 6px; font-family: 'DejaVu Sans', sans-serif; text-anchor: end" x="445.7" y="83.904925" transform="rotate(-0 445.7 83.904925)">−4</text>
</g>
</g>
<g id="ytick_26">
<g id="line2d_74">
<g>
<use href="#mff083b0342" x="449.5" y="61.64063" style="stroke: #000000; stroke-width: 0.5"/>
</g>
</g>
<g id="text_36">
<text style="font-size: 6px; font-family: 'DejaVu Sans', sans-serif; text-anchor: end" x="445.7" y="63.920161" transform="rotate(-0 445.7 63.920161)">−2</text>
</g>
</g>
<g id="ytick_27">
<g id="line2d_75">
<g>
<use href="#mff083b0342" x="449.5" y="41.655866" style="stroke: #000000; stroke-width: 0.5"/>
</g>
</g>
<g id="text_37">
<text style="font-size: 6px; font-family: 'DejaVu Sans', sans-serif; text-anchor: end" x="445.7" y="43.935397" transform="rotate(-0 445.7 43.935397)">0</text>
</g>
</g>
<g id="ytick_28">
<g id="line2d_76">
<g>
<use href="#mff083b0342" x="449.5" y="21.671102" style="stroke: #000000; stroke-width: 0.5"/>
</g>
</g>
<g id="text_38">
<text style="font-size: 6px; font-family: 'DejaVu Sans', sans-serif; text-anchor: end" x="445.7" y="23.950633" transform="rotate(-0 445.7 23.950633)">2</text>
</g>
</g>
</g>
<g id="line2d_77">
<path d="M 452.527273 85.122727
L 472.709091 85.122727
L 492.890909 85.122727
L 513.072727 85.122727
" clip-path="url(#pd8175d599f)" style="fill: none; stroke-dasharray: 3.26,1.41; stroke-dashoffset: 0; stroke: #ff0000; stroke-width: 1.1"/>
<g clip-path="url(#pd8175d599f)">
<use href="#m0c2da7bb96" x="452.527273" y="85.122727" style="fill: #ff0000; stroke: #ff0000; stroke-width: 0.6"/>
<use href="#m0c2da7bb96" x="472.709091" y="85.122727" style="fill: #ff0000; stroke: #ff0000; stroke-width: 0.6"/>
<use href="#m0c2da7bb96" x="492.890909" y="85.122727" style="fill: #ff0000; stroke: #ff0000; stroke-width: 0.6"/>
<use href="#m0c2da7bb96" x="513.072727" y="85.122727" style="fill: #ff0000; stroke: #ff0000; stroke-width: 0.6"/>
</g>
</g>
<g id="line2d_78">
<path d="M 452.527273 37.558989
L 472.709091 35.760361
L 492.890909 39.15777
L 513.072727 39.15777
" clip-path="url(#pd8175d599f)" style="fill: none; stroke-dasharray: 3.26,1.41; stroke-dashoffset: 0; stroke: #1f77b4; stroke-width: 1.1"/>
<g clip-path="url(#pd8175d599f)">
<use href="#mdfa1281d99" x="452.527273" y="37.558989" style="fill: #1f77b4; stroke: #1f77b4; stroke-width: 0.6"/>
<use href="#mdfa1281d99" x="472.709091" y="35.760361" style="fill: #1f77b4; stroke: #1f77b4; stroke-width: 0.6"/>
<use href="#mdfa1281d99" x="492.890909" y="39.15777" style="fill: #1f77b4; stroke: #1f77b4; stroke-width: 0.6"/>
<use href="#mdfa1281d99" x="513.072727" y="39.15777" style="fill: #1f77b4; stroke: #1f77b4; stroke-width: 0.6"/>
</g>
</g>
<g id="line2d_79">
<path d="M 472.709091 26.06775
L 492.890909 33.262265
L 513.072727 24.76874
" clip-path="url(#pd8175d599f)" style="fill: none; stroke-dasharray: 3.26,1.41; stroke-dashoffset: 0; stroke: #008000; stroke-width: 1.1"/>
<g clip-path="url(#pd8175d599f)">
<use href="#mad946ed612" x="472.709091" y="26.06775" style="fill: #008000; stroke: #008000; stroke-width: 0.6"/>
<use href="#mad946ed612" x="492.890909" y="33.262265" style="fill: #008000; stroke: #008000; stroke-width: 0.6"/>
<use href="#mad946ed612" x="513.072727" y="24.76874" style="fill: #008000; stroke: #008000; stroke-width: 0.6"/>
</g>
</g>
<g id="line2d_80">
<path d="M 452.527273 13.577273
L 472.709091 26.367522
L 492.890909 15.275978
L 513.072727 35.960208
" clip-path="url(#pd8175d599f)" style="fill: none; stroke-dasharray: 3.26,1.41; stroke-dashoffset: 0; stroke: #ffc0cb; stroke-width: 1.1"/>
<g clip-path="url(#pd8175d599f)">
<use href="#mf36503d7b8" x="452.527273" y="13.577273" style="fill: #ffc0cb; stroke: #ffc0cb; stroke-width: 0.6"/>
<use href="#mf36503d7b8" x="472.709091" y="26.367522" style="fill: #ffc0cb; stroke: #ffc0cb; stroke-width: 0.6"/>
<use href="#mf36503d7b8" x="492.890909" y="15.275978" style="fill: #ffc0cb; stroke: #ffc0cb; stroke-width: 0.6"/>
<use href="#mf36503d7b8" x="513.072727" y="35.960208" style="fill: #ffc0cb; stroke: #ffc0cb; stroke-width: 0.6"/>
</g>
</g>
<g id="patch_29">
<path d="M 449.5 88.7
L 449.5 10
" style="fill: none; stroke: #000000; stroke-width: 0.5; stroke-linejoin: miter; stroke-linecap: square"/>
</g>
<g id="patch_30">
<path d="M 516.1 88.7
L 516.1 10
" style="fill: none; stroke: #000000; stroke-width: 0.5; stroke-linejoin: miter; stroke-linecap: square"/>
</g>
<g id="patch_31">
<path d="M 449.5 88.7
L 516.1 88.7
" style="fill: none; stroke: #000000; stroke-width: 0.5; stroke-linejoin: miter; stroke-linecap: square"/>
</g>
<g id="patch_32">
<path d="M 449.5 10
L 516.1 10
" style="fill: none; stroke: #000000; stroke-width: 0.5; stroke-linejoin: miter; stroke-linecap: square"/>
</g>
<g id="text_39">
<text style="font-size: 8.65px; font-family: 'DejaVu Sans', sans-serif; text-anchor: middle" x="482.8" y="7.6" transform="rotate(-0 482.8 7.6)">FitzHugh</text>
</g>
</g>
<g id="axes_7">
<g id="patch_33">
<path d="M 30.6 175.4
L 97.2 175.4
L 97.2 96.7
L 30.6 96.7
z
" style="fill: #ffffff"/>
</g>
<g id="matplotlib.axis_13">
<g id="xtick_25">
<g id="line2d_81">
<g>
<use href="#mc1e7c72a07" x="33.627273" y="175.4" style="stroke: #000000; stroke-width: 0.5"/>
</g>
</g>
</g>
<g id="xtick_26">
<g id="line2d_82">
<g>
<use href="#mc1e7c72a07" x="53.809091" y="175.4" style="stroke: #000000; stroke-width: 0.5"/>
</g>
</g>
</g>
<g id="xtick_27">
<g id="line2d_83">
<g>
<use href="#mc1e7c72a07" x="73.990909" y="175.4" style="stroke: #000000; stroke-width: 0.5"/>
</g>
</g>
</g>
<g id="xtick_28">
<g id="line2d_84">
<g>
<use href="#mc1e7c72a07" x="94.172727" y="175.4" style="stroke: #000000; stroke-width: 0.5"/>
</g>
</g>
</g>
</g>
<g id="matplotlib.axis_14">
<g id="ytick_29">
<g id="line2d_85">
<g>
<use href="#mff083b0342" x="30.6" y="166.747554" style="stroke: #000000; stroke-width: 0.5"/>
</g>
</g>
<g id="text_40">
<text style="font-size: 6px; font-family: 'DejaVu Sans', sans-serif; text-anchor: end" x="26.8" y="169.027085" transform="rotate(-0 26.8 169.027085)">0.2</text>
</g>
</g>
<g id="ytick_30">
<g id="line2d_86">
<g>
<use href="#mff083b0342" x="30.6" y="150.187849" style="stroke: #000000; stroke-width: 0.5"/>
</g>
</g>
<g id="text_41">
<text style="font-size: 6px; font-family: 'DejaVu Sans', sans-serif; text-anchor: end" x="26.8" y="152.46738" transform="rotate(-0 26.8 152.46738)">0.4</text>
</g>
</g>
<g id="ytick_31">
<g id="line2d_87">
<g>
<use href="#mff083b0342" x="30.6" y="133.628143" style="stroke: #000000; stroke-width: 0.5"/>
</g>
</g>
<g id="text_42">
<text style="font-size: 6px; font-family: 'DejaVu Sans', sans-serif; text-anchor: end" x="26.8" y="135.907674" transform="rotate(-0 26.8 135.907674)">0.6</text>
</g>
</g>
<g id="ytick_32">
<g id="line2d_88">
<g>
<use href="#mff083b0342" x="30.6" y="117.068438" style="stroke: #000000; stroke-width: 0.5"/>
</g>
</g>
<g id="text_43">
<text style="font-size: 6px; font-family: 'DejaVu Sans', sans-serif; text-anchor: end" x="26.8" y="119.347969" transform="rotate(-0 26.8 119.347969)">0.8</text>
</g>
</g>
<g id="ytick_33">
<g id="line2d_89">
<g>
<use href="#mff083b0342" x="30.6" y="100.508732" style="stroke: #000000; stroke-width: 0.5"/>
</g>
</g>
<g id="text_44">
<text style="font-size: 6px; font-family: 'DejaVu Sans', sans-serif; text-anchor: end" x="26.8" y="102.788263" transform="rotate(-0 26.8 102.788263)">1.0</text>
</g>
</g>
<g id="text_45">
<text style="font-size: 8.6px; font-family: 'DejaVu Sans', sans-serif; text-anchor: middle" x="13.119594" y="137.55" transform="rotate(-90 13.119594 137.55)">Mp</text>
</g>
</g>
<g id="line2d_90">
<path d="M 33.627273 100.508732
L 53.809091 100.508732
L 73.990909 100.508732
L 94.172727 100.508732
" clip-path="url(#p2d56bb1da3)" style="fill: none; stroke-dasharray: 3.26,1.41; stroke-dashoffset: 0; stroke: #ff0000; stroke-width: 1.1"/>
<g clip-path="url(#p2d56bb1da3)">
<use href="#m0c2da7bb96" x="33.627273" y="100.508732" style="fill: #ff0000; stroke: #ff0000; stroke-width: 0.6"/>
<use href="#m0c2da7bb96" x="53.809091" y="100.508732" style="fill: #ff0000; stroke: #ff0000; stroke-width: 0.6"/>
<use href="#m0c2da7bb96" x="73.990909" y="100.508732" style="fill: #ff0000; stroke: #ff0000; stroke-width: 0.6"/>
<use href="#m0c2da7bb96" x="94.172727" y="100.508732" style="fill: #ff0000; stroke: #ff0000; stroke-width: 0.6"/>
</g>
</g>
<g id="line2d_91">
<path d="M 33.627273 100.508732
L 53.809091 107.9606
L 73.990909 143.149974
L 94.172727 165.919569
" clip-path="url(#p2d56bb1da3)" style="fill: none; stroke-dasharray: 3.26,1.41; stroke-dashoffset: 0; stroke: #1f77b4; stroke-width: 1.1"/>
<g clip-path="url(#p2d56bb1da3)">
<use href="#mdfa1281d99" x="33.627273" y="100.508732" style="fill: #1f77b4; stroke: #1f77b4; stroke-width: 0.6"/>
<use href="#mdfa1281d99" x="53.809091" y="107.9606" style="fill: #1f77b4; stroke: #1f77b4; stroke-width: 0.6"/>
<use href="#mdfa1281d99" x="73.990909" y="143.149974" style="fill: #1f77b4; stroke: #1f77b4; stroke-width: 0.6"/>
<use href="#mdfa1281d99" x="94.172727" y="165.919569" style="fill: #1f77b4; stroke: #1f77b4; stroke-width: 0.6"/>
</g>
</g>
<g id="line2d_92">
<path d="M 33.627273 167.575539
L 53.809091 158.798895
L 73.990909 167.575539
L 94.172727 172.295055
" clip-path="url(#p2d56bb1da3)" style="fill: none; stroke-dasharray: 3.26,1.41; stroke-dashoffset: 0; stroke: #008000; stroke-width: 1.1"/>
<g clip-path="url(#p2d56bb1da3)">
<use href="#mad946ed612" x="33.627273" y="167.575539" style="fill: #008000; stroke: #008000; stroke-width: 0.6"/>
<use href="#mad946ed612" x="53.809091" y="158.798895" style="fill: #008000; stroke: #008000; stroke-width: 0.6"/>
<use href="#mad946ed612" x="73.990909" y="167.575539" style="fill: #008000; stroke: #008000; stroke-width: 0.6"/>
<use href="#mad946ed612" x="94.172727" y="172.295055" style="fill: #008000; stroke: #008000; stroke-width: 0.6"/>
</g>
</g>
<g id="line2d_93">
<path d="M 33.627273 170.307891
L 53.809091 166.250763
L 73.990909 164.1808
L 94.172727 169.645502
" clip-path="url(#p2d56bb1da3)" style="fill: none; stroke-dasharray: 3.26,1.41; stroke-dashoffset: 0; stroke: #ffc0cb; stroke-width: 1.1"/>
<g clip-path="url(#p2d56bb1da3)">
<use href="#mf36503d7b8" x="33.627273" y="170.307891" style="fill: #ffc0cb; stroke: #ffc0cb; stroke-width: 0.6"/>
<use href="#mf36503d7b8" x="53.809091" y="166.250763" style="fill: #ffc0cb; stroke: #ffc0cb; stroke-width: 0.6"/>
<use href="#mf36503d7b8" x="73.990909" y="164.1808" style="fill: #ffc0cb; stroke: #ffc0cb; stroke-width: 0.6"/>
<use href="#mf36503d7b8" x="94.172727" y="169.645502" style="fill: #ffc0cb; stroke: #ffc0cb; stroke-width: 0.6"/>
</g>
</g>
<g id="patch_34">
<path d="M 30.6 175.4
L 30.6 96.7
" style="fill: none; stroke: #000000; stroke-width: 0.5; stroke-linejoin: miter; stroke-linecap: square"/>
</g>
<g id="patch_35">
<path d="M 97.2 175.4
L 97.2 96.7
" style="fill: none; stroke: #000000; stroke-width: 0.5; stroke-linejoin: miter; stroke-linecap: square"/>
</g>
<g id="patch_36">
<path d="M 30.6 175.4
L 97.2 175.4
" style="fill: none; stroke: #000000; stroke-width: 0.5; stroke-linejoin: miter; stroke-linecap: square"/>
</g>
<g id="patch_37">
<path d="M 30.6 96.7
L 97.2 96.7
" style="fill: none; stroke: #000000; stroke-width: 0.5; stroke-linejoin: miter; stroke-linecap: square"/>
</g>
<g id="legend_2">
<g id="patch_38">
<path d="M 34.8 154.56375
L 62.994375 154.56375
Q 64.194375 154.56375 64.194375 153.36375
L 64.194375 118.73625
Q 64.194375 117.53625 62.994375 117.53625
L 34.8 117.53625
Q 33.6 117.53625 33.6 118.73625
L 33.6 153.36375
Q 33.6 154.56375 34.8 154.56375
z
" style="fill: #ffffff; opacity: 0.8; stroke: #cccccc; stroke-width: 0.5; stroke-linejoin: miter"/>
</g>
<g id="line2d_94">
<path d="M 36 122.395313
L 42 122.395313
L 48 122.395313
" style="fill: none; stroke-dasharray: 3.26,1.41; stroke-dashoffset: 0; stroke: #ff0000; stroke-width: 1.1"/>
<g>
<use href="#m0c2da7bb96" x="42" y="122.395313" style="fill: #ff0000; stroke: #ff0000; stroke-width: 0.6"/>
</g>
</g>
<g id="text_46">
<text style="font-size: 6px; font-family: 'DejaVu Sans', sans-serif; text-anchor: start" x="52.8" y="124.495313" transform="rotate(-0 52.8 124.495313)">M1</text>
</g>
<g id="line2d_95">
<path d="M 36 131.202188
L 42 131.202188
L 48 131.202188
" style="fill: none; stroke-dasharray: 3.26,1.41; stroke-dashoffset: 0; stroke: #1f77b4; stroke-width: 1.1"/>
<g>
<use href="#mdfa1281d99" x="42" y="131.202188" style="fill: #1f77b4; stroke: #1f77b4; stroke-width: 0.6"/>
</g>
</g>
<g id="text_47">
<text style="font-size: 6px; font-family: 'DejaVu Sans', sans-serif; text-anchor: start" x="52.8" y="133.302188" transform="rotate(-0 52.8 133.302188)">M2</text>
</g>
<g id="line2d_96">
<path d="M 36 140.009063
L 42 140.009063
L 48 140.009063
" style="fill: none; stroke-dasharray: 3.26,1.41; stroke-dashoffset: 0; stroke: #008000; stroke-width: 1.1"/>
<g>
<use href="#mad946ed612" x="42" y="140.009063" style="fill: #008000; stroke: #008000; stroke-width: 0.6"/>
</g>
</g>
<g id="text_48">
<text style="font-size: 6px; font-family: 'DejaVu Sans', sans-serif; text-anchor: start" x="52.8" y="142.109063" transform="rotate(-0 52.8 142.109063)">M3</text>
</g>
<g id="line2d_97">
<path d="M 36 148.815938
L 42 148.815938
L 48 148.815938
" style="fill: none; stroke-dasharray: 3.26,1.41; stroke-dashoffset: 0; stroke: #ffc0cb; stroke-width: 1.1"/>
<g>
<use href="#mf36503d7b8" x="42" y="148.815938" style="fill: #ffc0cb; stroke: #ffc0cb; stroke-width: 0.6"/>
</g>
</g>
<g id="text_49">
<text style="font-size: 6px; font-family: 'DejaVu Sans', sans-serif; text-anchor: start" x="52.8" y="150.915938" transform="rotate(-0 52.8 150.915938)">M4</text>
</g>
</g>
</g>
<g id="axes_8">
<g id="patch_39">
<path d="M 114.38 175.4
L 180.98 175.4
L 180.98 96.7
L 114.38 96.7
z
" style="fill: #ffffff"/>
</g>
<g id="matplotlib.axis_15">
<g id="xtick_29">
<g id="line2d_98">
<g>
<use href="#mc1e7c72a07" x="117.407273" y="175.4" style="stroke: #000000; stroke-width: 0.5"/>
</g>
</g>
</g>
<g id="xtick_30">
<g id="line2d_99">
<g>
<use href="#mc1e7c72a07" x="137.589091" y="175.4" style="stroke: #000000; stroke-width: 0.5"/>
</g>
</g>
</g>
<g id="xtick_31">
<g id="line2d_100">
<g>
<use href="#mc1e7c72a07" x="157.770909" y="175.4" style="stroke: #000000; stroke-width: 0.5"/>
</g>
</g>
</g>
<g id="xtick_32">
<g id="line2d_101">
<g>
<use href="#mc1e7c72a07" x="177.952727" y="175.4" style="stroke: #000000; stroke-width: 0.5"/>
</g>
</g>
</g>
</g>
<g id="matplotlib.axis_16">
<g id="ytick_34">
<g id="line2d_102">
<g>
<use href="#mff083b0342" x="114.38" y="166.747554" style="stroke: #000000; stroke-width: 0.5"/>
</g>
</g>
<g id="text_50">
<text style="font-size: 6px; font-family: 'DejaVu Sans', sans-serif; text-anchor: end" x="110.58" y="169.027085" transform="rotate(-0 110.58 169.027085)">0.2</text>
</g>
</g>
<g id="ytick_35">
<g id="line2d_103">
<g>
<use href="#mff083b0342" x="114.38" y="150.187849" style="stroke: #000000; stroke-width: 0.5"/>
</g>
</g>
<g id="text_51">
<text style="font-size: 6px; font-family: 'DejaVu Sans', sans-serif; text-anchor: end" x="110.58" y="152.46738" transform="rotate(-0 110.58 152.46738)">0.4</text>
</g>
</g>
<g id="ytick_36">
<g id="line2d_104">
<g>
<use href="#mff083b0342" x="114.38" y="133.628143" style="stroke: #000000; stroke-width: 0.5"/>
</g>
</g>
<g id="text_52">
<text style="font-size: 6px; font-family: 'DejaVu Sans', sans-serif; text-anchor: end" x="110.58" y="135.907674" transform="rotate(-0 110.58 135.907674)">0.6</text>
</g>
</g>
<g id="ytick_37">
<g id="line2d_105">
<g>
<use href="#mff083b0342" x="114.38" y="117.068438" style="stroke: #000000; stroke-width: 0.5"/>
</g>
</g>
<g id="text_53">
<text style="font-size: 6px; font-family: 'DejaVu Sans', sans-serif; text-anchor: end" x="110.58" y="119.347969" transform="rotate(-0 110.58 119.347969)">0.8</text>
</g>
</g>
<g id="ytick_38">
<g id="line2d_106">
<g>
<use href="#mff083b0342" x="114.38" y="100.508732" style="stroke: #000000; stroke-width: 0.5"/>
</g>
</g>
<g id="text_54">
<text style="font-size: 6px; font-family: 'DejaVu Sans', sans-serif; text-anchor: end" x="110.58" y="102.788263" transform="rotate(-0 110.58 102.788263)">1.0</text>
</g>
</g>
</g>
<g id="line2d_107">
<path d="M 117.407273 134.870121
L 137.589091 134.870121
L 157.770909 134.870121
L 177.952727 134.870121
" clip-path="url(#p05727c8c83)" style="fill: none; stroke-dasharray: 3.26,1.41; stroke-dashoffset: 0; stroke: #ff0000; stroke-width: 1.1"/>
<g clip-path="url(#p05727c8c83)">
<use href="#m0c2da7bb96" x="117.407273" y="134.870121" style="fill: #ff0000; stroke: #ff0000; stroke-width: 0.6"/>
<use href="#m0c2da7bb96" x="137.589091" y="134.870121" style="fill: #ff0000; stroke: #ff0000; stroke-width: 0.6"/>
<use href="#m0c2da7bb96" x="157.770909" y="134.870121" style="fill: #ff0000; stroke: #ff0000; stroke-width: 0.6"/>
<use href="#m0c2da7bb96" x="177.952727" y="134.870121" style="fill: #ff0000; stroke: #ff0000; stroke-width: 0.6"/>
</g>
</g>
<g id="line2d_108">
<path d="M 117.407273 135.863703
L 137.589091 168.817517
L 157.770909 163.684008
L 177.952727 157.308522
" clip-path="url(#p05727c8c83)" style="fill: none; stroke-dasharray: 3.26,1.41; stroke-dashoffset: 0; stroke: #1f77b4; stroke-width: 1.1"/>
<g clip-path="url(#p05727c8c83)">
<use href="#mdfa1281d99" x="117.407273" y="135.863703" style="fill: #1f77b4; stroke: #1f77b4; stroke-width: 0.6"/>
<use href="#mdfa1281d99" x="137.589091" y="168.817517" style="fill: #1f77b4; stroke: #1f77b4; stroke-width: 0.6"/>
<use href="#mdfa1281d99" x="157.770909" y="163.684008" style="fill: #1f77b4; stroke: #1f77b4; stroke-width: 0.6"/>
<use href="#mdfa1281d99" x="177.952727" y="157.308522" style="fill: #1f77b4; stroke: #1f77b4; stroke-width: 0.6"/>
</g>
</g>
<g id="line2d_109">
<path d="M 117.407273 166.41636
L 137.589091 159.461284
L 157.770909 171.218674
L 177.952727 166.664755
" clip-path="url(#p05727c8c83)" style="fill: none; stroke-dasharray: 3.26,1.41; stroke-dashoffset: 0; stroke: #008000; stroke-width: 1.1"/>
<g clip-path="url(#p05727c8c83)">
<use href="#mad946ed612" x="117.407273" y="166.41636" style="fill: #008000; stroke: #008000; stroke-width: 0.6"/>
<use href="#mad946ed612" x="137.589091" y="159.461284" style="fill: #008000; stroke: #008000; stroke-width: 0.6"/>
<use href="#mad946ed612" x="157.770909" y="171.218674" style="fill: #008000; stroke: #008000; stroke-width: 0.6"/>
<use href="#mad946ed612" x="177.952727" y="166.664755" style="fill: #008000; stroke: #008000; stroke-width: 0.6"/>
</g>
</g>
<g id="line2d_110">
<path d="M 117.407273 169.479905
L 137.589091 160.372067
L 157.770909 167.823935
L 177.952727 166.41636
" clip-path="url(#p05727c8c83)" style="fill: none; stroke-dasharray: 3.26,1.41; stroke-dashoffset: 0; stroke: #ffc0cb; stroke-width: 1.1"/>
<g clip-path="url(#p05727c8c83)">
<use href="#mf36503d7b8" x="117.407273" y="169.479905" style="fill: #ffc0cb; stroke: #ffc0cb; stroke-width: 0.6"/>
<use href="#mf36503d7b8" x="137.589091" y="160.372067" style="fill: #ffc0cb; stroke: #ffc0cb; stroke-width: 0.6"/>
<use href="#mf36503d7b8" x="157.770909" y="167.823935" style="fill: #ffc0cb; stroke: #ffc0cb; stroke-width: 0.6"/>
<use href="#mf36503d7b8" x="177.952727" y="166.41636" style="fill: #ffc0cb; stroke: #ffc0cb; stroke-width: 0.6"/>
</g>
</g>
<g id="patch_40">
<path d="M 114.38 175.4
L 114.38 96.7
" style="fill: none; stroke: #000000; stroke-width: 0.5; stroke-linejoin: miter; stroke-linecap: square"/>
</g>
<g id="patch_41">
<path d="M 180.98 175.4
L 180.98 96.7
" style="fill: none; stroke: #000000; stroke-width: 0.5; stroke-linejoin: miter; stroke-linecap: square"/>
</g>
<g id="patch_42">
<path d="M 114.38 175.4
L 180.98 175.4
" style="fill: none; stroke: #000000; stroke-width: 0.5; stroke-linejoin: miter; stroke-linecap: square"/>
</g>
<g id="patch_43">
<path d="M 114.38 96.7
L 180.98 96.7
" style="fill: none; stroke: #000000; stroke-width: 0.5; stroke-linejoin: miter; stroke-linecap: square"/>
</g>
</g>
<g id="axes_9">
<g id="patch_44">
<path d="M 198.16 175.4
L 264.76 175.4
L 264.76 96.7
L 198.16 96.7
z
" style="fill: #ffffff"/>
</g>
<g id="matplotlib.axis_17">
<g id="xtick_33">
<g id="line2d_111">
<g>
<use href="#mc1e7c72a07" x="201.187273" y="175.4" style="stroke: #000000; stroke-width: 0.5"/>
</g>
</g>
</g>
<g id="xtick_34">
<g id="line2d_112">
<g>
<use href="#mc1e7c72a07" x="221.369091" y="175.4" style="stroke: #000000; stroke-width: 0.5"/>
</g>
</g>
</g>
<g id="xtick_35">
<g id="line2d_113">
<g>
<use href="#mc1e7c72a07" x="241.550909" y="175.4" style="stroke: #000000; stroke-width: 0.5"/>
</g>
</g>
</g>
<g id="xtick_36">
<g id="line2d_114">
<g>
<use href="#mc1e7c72a07" x="261.732727" y="175.4" style="stroke: #000000; stroke-width: 0.5"/>
</g>
</g>
</g>
</g>
<g id="matplotlib.axis_18">
<g id="ytick_39">
<g id="line2d_115">
<g>
<use href="#mff083b0342" x="198.16" y="166.747554" style="stroke: #000000; stroke-width: 0.5"/>
</g>
</g>
<g id="text_55">
<text style="font-size: 6px; font-family: 'DejaVu Sans', sans-serif; text-anchor: end" x="194.36" y="169.027085" transform="rotate(-0 194.36 169.027085)">0.2</text>
</g>
</g>
<g id="ytick_40">
<g id="line2d_116">
<g>
<use href="#mff083b0342" x="198.16" y="150.187849" style="stroke: #000000; stroke-width: 0.5"/>
</g>
</g>
<g id="text_56">
<text style="font-size: 6px; font-family: 'DejaVu Sans', sans-serif; text-anchor: end" x="194.36" y="152.46738" transform="rotate(-0 194.36 152.46738)">0.4</text>
</g>
</g>
<g id="ytick_41">
<g id="line2d_117">
<g>
<use href="#mff083b0342" x="198.16" y="133.628143" style="stroke: #000000; stroke-width: 0.5"/>
</g>
</g>
<g id="text_57">
<text style="font-size: 6px; font-family: 'DejaVu Sans', sans-serif; text-anchor: end" x="194.36" y="135.907674" transform="rotate(-0 194.36 135.907674)">0.6</text>
</g>
</g>
<g id="ytick_42">
<g id="line2d_118">
<g>
<use href="#mff083b0342" x="198.16" y="117.068438" style="stroke: #000000; stroke-width: 0.5"/>
</g>
</g>
<g id="text_58">
<text style="font-size: 6px; font-family: 'DejaVu Sans', sans-serif; text-anchor: end" x="194.36" y="119.347969" transform="rotate(-0 194.36 119.347969)">0.8</text>
</g>
</g>
<g id="ytick_43">
<g id="line2d_119">
<g>
<use href="#mff083b0342" x="198.16" y="100.508732" style="stroke: #000000; stroke-width: 0.5"/>
</g>
</g>
<g id="text_59">
<text style="font-size: 6px; font-family: 'DejaVu Sans', sans-serif; text-anchor: end" x="194.36" y="102.788263" transform="rotate(-0 194.36 102.788263)">1.0</text>
</g>
</g>
</g>
<g id="line2d_120">
<path d="M 201.187273 100.508732
L 221.369091 100.508732
L 241.550909 100.508732
L 261.732727 100.508732
" clip-path="url(#p63350c313e)" style="fill: none; stroke-dasharray: 3.26,1.41; stroke-dashoffset: 0; stroke: #ff0000; stroke-width: 1.1"/>
<g clip-path="url(#p63350c313e)">
<use href="#m0c2da7bb96" x="201.187273" y="100.508732" style="fill: #ff0000; stroke: #ff0000; stroke-width: 0.6"/>
<use href="#m0c2da7bb96" x="221.369091" y="100.508732" style="fill: #ff0000; stroke: #ff0000; stroke-width: 0.6"/>
<use href="#m0c2da7bb96" x="241.550909" y="100.508732" style="fill: #ff0000; stroke: #ff0000; stroke-width: 0.6"/>
<use href="#m0c2da7bb96" x="261.732727" y="100.508732" style="fill: #ff0000; stroke: #ff0000; stroke-width: 0.6"/>
</g>
</g>
<g id="line2d_121">
<path d="M 201.187273 118.06202
L 221.369091 145.385534
L 241.550909 159.626881
L 261.732727 166.167964
" clip-path="url(#p63350c313e)" style="fill: none; stroke-dasharray: 3.26,1.41; stroke-dashoffset: 0; stroke: #1f77b4; stroke-width: 1.1"/>
<g clip-path="url(#p63350c313e)">
<use href="#mdfa1281d99" x="201.187273" y="118.06202" style="fill: #1f77b4; stroke: #1f77b4; stroke-width: 0.6"/>
<use href="#mdfa1281d99" x="221.369091" y="145.385534" style="fill: #1f77b4; stroke: #1f77b4; stroke-width: 0.6"/>
<use href="#mdfa1281d99" x="241.550909" y="159.626881" style="fill: #1f77b4; stroke: #1f77b4; stroke-width: 0.6"/>
<use href="#mdfa1281d99" x="261.732727" y="166.167964" style="fill: #1f77b4; stroke: #1f77b4; stroke-width: 0.6"/>
</g>
</g>
<g id="line2d_122">
<path d="M 201.187273 149.442662
L 221.369091 156.894529
L 241.550909 164.015203
L 261.732727 171.715466
" clip-path="url(#p63350c313e)" style="fill: none; stroke-dasharray: 3.26,1.41; stroke-dashoffset: 0; stroke: #008000; stroke-width: 1.1"/>
<g clip-path="url(#p63350c313e)">
<use href="#mad946ed612" x="201.187273" y="149.442662" style="fill: #008000; stroke: #008000; stroke-width: 0.6"/>
<use href="#mad946ed612" x="221.369091" y="156.894529" style="fill: #008000; stroke: #008000; stroke-width: 0.6"/>
<use href="#mad946ed612" x="241.550909" y="164.015203" style="fill: #008000; stroke: #008000; stroke-width: 0.6"/>
<use href="#mad946ed612" x="261.732727" y="171.715466" style="fill: #008000; stroke: #008000; stroke-width: 0.6"/>
</g>
</g>
<g id="line2d_123">
<path d="M 201.187273 150.850237
L 221.369091 162.690426
L 241.550909 171.715466
L 261.732727 172.129458
" clip-path="url(#p63350c313e)" style="fill: none; stroke-dasharray: 3.26,1.41; stroke-dashoffset: 0; stroke: #ffc0cb; stroke-width: 1.1"/>
<g clip-path="url(#p63350c313e)">
<use href="#mf36503d7b8" x="201.187273" y="150.850237" style="fill: #ffc0cb; stroke: #ffc0cb; stroke-width: 0.6"/>
<use href="#mf36503d7b8" x="221.369091" y="162.690426" style="fill: #ffc0cb; stroke: #ffc0cb; stroke-width: 0.6"/>
<use href="#mf36503d7b8" x="241.550909" y="171.715466" style="fill: #ffc0cb; stroke: #ffc0cb; stroke-width: 0.6"/>
<use href="#mf36503d7b8" x="261.732727" y="172.129458" style="fill: #ffc0cb; stroke: #ffc0cb; stroke-width: 0.6"/>
</g>
</g>
<g id="patch_45">
<path d="M 198.16 175.4
L 198.16 96.7
" style="fill: none; stroke: #000000; stroke-width: 0.5; stroke-linejoin: miter; stroke-linecap: square"/>
</g>
<g id="patch_46">
<path d="M 264.76 175.4
L 264.76 96.7
" style="fill: none; stroke: #000000; stroke-width: 0.5; stroke-linejoin: miter; stroke-linecap: square"/>
</g>
<g id="patch_47">
<path d="M 198.16 175.4
L 264.76 175.4
" style="fill: none; stroke: #000000; stroke-width: 0.5; stroke-linejoin: miter; stroke-linecap: square"/>
</g>
<g id="patch_48">
<path d="M 198.16 96.7
L 264.76 96.7
" style="fill: none; stroke: #000000; stroke-width: 0.5; stroke-linejoin: miter; stroke-linecap: square"/>
</g>
</g>
<g id="axes_10">
<g id="patch_49">
<path d="M 281.94 175.4
L 348.54 175.4
L 348.54 96.7
L 281.94 96.7
z
" style="fill: #ffffff"/>
</g>
<g id="matplotlib.axis_19">
<g id="xtick_37">
<g id="line2d_124">
<g>
<use href="#mc1e7c72a07" x="284.967273" y="175.4" style="stroke: #000000; stroke-width: 0.5"/>
</g>
</g>
</g>
<g id="xtick_38">
<g id="line2d_125">
<g>
<use href="#mc1e7c72a07" x="305.149091" y="175.4" style="stroke: #000000; stroke-width: 0.5"/>
</g>
</g>
</g>
<g id="xtick_39">
<g id="line2d_126">
<g>
<use href="#mc1e7c72a07" x="325.330909" y="175.4" style="stroke: #000000; stroke-width: 0.5"/>
</g>
</g>
</g>
<g id="xtick_40">
<g id="line2d_127">
<g>
<use href="#mc1e7c72a07" x="345.512727" y="175.4" style="stroke: #000000; stroke-width: 0.5"/>
</g>
</g>
</g>
</g>
<g id="matplotlib.axis_20">
<g id="ytick_44">
<g id="line2d_128">
<g>
<use href="#mff083b0342" x="281.94" y="166.747554" style="stroke: #000000; stroke-width: 0.5"/>
</g>
</g>
<g id="text_60">
<text style="font-size: 6px; font-family: 'DejaVu Sans', sans-serif; text-anchor: end" x="278.14" y="169.027085" transform="rotate(-0 278.14 169.027085)">0.2</text>
</g>
</g>
<g id="ytick_45">
<g id="line2d_129">
<g>
<use href="#mff083b0342" x="281.94" y="150.187849" style="stroke: #000000; stroke-width: 0.5"/>
</g>
</g>
<g id="text_61">
<text style="font-size: 6px; font-family: 'DejaVu Sans', sans-serif; text-anchor: end" x="278.14" y="152.46738" transform="rotate(-0 278.14 152.46738)">0.4</text>
</g>
</g>
<g id="ytick_46">
<g id="line2d_130">
<g>
<use href="#mff083b0342" x="281.94" y="133.628143" style="stroke: #000000; stroke-width: 0.5"/>
</g>
</g>
<g id="text_62">
<text style="font-size: 6px; font-family: 'DejaVu Sans', sans-serif; text-anchor: end" x="278.14" y="135.907674" transform="rotate(-0 278.14 135.907674)">0.6</text>
</g>
</g>
<g id="ytick_47">
<g id="line2d_131">
<g>
<use href="#mff083b0342" x="281.94" y="117.068438" style="stroke: #000000; stroke-width: 0.5"/>
</g>
</g>
<g id="text_63">
<text style="font-size: 6px; font-family: 'DejaVu Sans', sans-serif; text-anchor: end" x="278.14" y="119.347969" transform="rotate(-0 278.14 119.347969)">0.8</text>
</g>
</g>
<g id="ytick_48">
<g id="line2d_132">
<g>
<use href="#mff083b0342" x="281.94" y="100.508732" style="stroke: #000000; stroke-width: 0.5"/>
</g>
</g>
<g id="text_64">
<text style="font-size: 6px; font-family: 'DejaVu Sans', sans-serif; text-anchor: end" x="278.14" y="102.788263" transform="rotate(-0 278.14 102.788263)">1.0</text>
</g>
</g>
</g>
<g id="line2d_133">
<path d="M 284.967273 100.508732
L 305.149091 100.508732
L 325.330909 100.508732
L 345.512727 100.508732
" clip-path="url(#pf7e096f766)" style="fill: none; stroke-dasharray: 3.26,1.41; stroke-dashoffset: 0; stroke: #ff0000; stroke-width: 1.1"/>
<g clip-path="url(#pf7e096f766)">
<use href="#m0c2da7bb96" x="284.967273" y="100.508732" style="fill: #ff0000; stroke: #ff0000; stroke-width: 0.6"/>
<use href="#m0c2da7bb96" x="305.149091" y="100.508732" style="fill: #ff0000; stroke: #ff0000; stroke-width: 0.6"/>
<use href="#m0c2da7bb96" x="325.330909" y="100.508732" style="fill: #ff0000; stroke: #ff0000; stroke-width: 0.6"/>
<use href="#m0c2da7bb96" x="345.512727" y="100.508732" style="fill: #ff0000; stroke: #ff0000; stroke-width: 0.6"/>
</g>
</g>
<g id="line2d_134">
<path d="M 284.967273 108.705786
L 305.149091 108.705786
L 325.330909 108.705786
L 345.512727 108.705786
" clip-path="url(#pf7e096f766)" style="fill: none; stroke-dasharray: 3.26,1.41; stroke-dashoffset: 0; stroke: #1f77b4; stroke-width: 1.1"/>
<g clip-path="url(#pf7e096f766)">
<use href="#mdfa1281d99" x="284.967273" y="108.705786" style="fill: #1f77b4; stroke: #1f77b4; stroke-width: 0.6"/>
<use href="#mdfa1281d99" x="305.149091" y="108.705786" style="fill: #1f77b4; stroke: #1f77b4; stroke-width: 0.6"/>
<use href="#mdfa1281d99" x="325.330909" y="108.705786" style="fill: #1f77b4; stroke: #1f77b4; stroke-width: 0.6"/>
<use href="#mdfa1281d99" x="345.512727" y="108.705786" style="fill: #1f77b4; stroke: #1f77b4; stroke-width: 0.6"/>
</g>
</g>
<g id="line2d_135">
<path d="M 284.967273 113.01131
L 305.149091 113.01131
L 325.330909 113.01131
L 345.512727 113.01131
" clip-path="url(#pf7e096f766)" style="fill: none; stroke-dasharray: 3.26,1.41; stroke-dashoffset: 0; stroke: #008000; stroke-width: 1.1"/>
<g clip-path="url(#pf7e096f766)">
<use href="#mad946ed612" x="284.967273" y="113.01131" style="fill: #008000; stroke: #008000; stroke-width: 0.6"/>
<use href="#mad946ed612" x="305.149091" y="113.01131" style="fill: #008000; stroke: #008000; stroke-width: 0.6"/>
<use href="#mad946ed612" x="325.330909" y="113.01131" style="fill: #008000; stroke: #008000; stroke-width: 0.6"/>
<use href="#mad946ed612" x="345.512727" y="113.01131" style="fill: #008000; stroke: #008000; stroke-width: 0.6"/>
</g>
</g>
<g id="line2d_136">
<path d="M 284.967273 105.642241
L 305.149091 105.642241
L 325.330909 105.642241
L 345.512727 105.642241
" clip-path="url(#pf7e096f766)" style="fill: none; stroke-dasharray: 3.26,1.41; stroke-dashoffset: 0; stroke: #ffc0cb; stroke-width: 1.1"/>
<g clip-path="url(#pf7e096f766)">
<use href="#mf36503d7b8" x="284.967273" y="105.642241" style="fill: #ffc0cb; stroke: #ffc0cb; stroke-width: 0.6"/>
<use href="#mf36503d7b8" x="305.149091" y="105.642241" style="fill: #ffc0cb; stroke: #ffc0cb; stroke-width: 0.6"/>
<use href="#mf36503d7b8" x="325.330909" y="105.642241" style="fill: #ffc0cb; stroke: #ffc0cb; stroke-width: 0.6"/>
<use href="#mf36503d7b8" x="345.512727" y="105.642241" style="fill: #ffc0cb; stroke: #ffc0cb; stroke-width: 0.6"/>
</g>
</g>
<g id="patch_50">
<path d="M 281.94 175.4
L 281.94 96.7
" style="fill: none; stroke: #000000; stroke-width: 0.5; stroke-linejoin: miter; stroke-linecap: square"/>
</g>
<g id="patch_51">
<path d="M 348.54 175.4
L 348.54 96.7
" style="fill: none; stroke: #000000; stroke-width: 0.5; stroke-linejoin: miter; stroke-linecap: square"/>
</g>
<g id="patch_52">
<path d="M 281.94 175.4
L 348.54 175.4
" style="fill: none; stroke: #000000; stroke-width: 0.5; stroke-linejoin: miter; stroke-linecap: square"/>
</g>
<g id="patch_53">
<path d="M 281.94 96.7
L 348.54 96.7
" style="fill: none; stroke: #000000; stroke-width: 0.5; stroke-linejoin: miter; stroke-linecap: square"/>
</g>
</g>
<g id="axes_11">
<g id="patch_54">
<path d="M 365.72 175.4
L 432.32 175.4
L 432.32 96.7
L 365.72 96.7
z
" style="fill: #ffffff"/>
</g>
<g id="matplotlib.axis_21">
<g id="xtick_41">
<g id="line2d_137">
<g>
<use href="#mc1e7c72a07" x="368.747273" y="175.4" style="stroke: #000000; stroke-width: 0.5"/>
</g>
</g>
</g>
<g id="xtick_42">
<g id="line2d_138">
<g>
<use href="#mc1e7c72a07" x="388.929091" y="175.4" style="stroke: #000000; stroke-width: 0.5"/>
</g>
</g>
</g>
<g id="xtick_43">
<g id="line2d_139">
<g>
<use href="#mc1e7c72a07" x="409.110909" y="175.4" style="stroke: #000000; stroke-width: 0.5"/>
</g>
</g>
</g>
<g id="xtick_44">
<g id="line2d_140">
<g>
<use href="#mc1e7c72a07" x="429.292727" y="175.4" style="stroke: #000000; stroke-width: 0.5"/>
</g>
</g>
</g>
</g>
<g id="matplotlib.axis_22">
<g id="ytick_49">
<g id="line2d_141">
<g>
<use href="#mff083b0342" x="365.72" y="166.747554" style="stroke: #000000; stroke-width: 0.5"/>
</g>
</g>
<g id="text_65">
<text style="font-size: 6px; font-family: 'DejaVu Sans', sans-serif; text-anchor: end" x="361.92" y="169.027085" transform="rotate(-0 361.92 169.027085)">0.2</text>
</g>
</g>
<g id="ytick_50">
<g id="line2d_142">
<g>
<use href="#mff083b0342" x="365.72" y="150.187849" style="stroke: #000000; stroke-width: 0.5"/>
</g>
</g>
<g id="text_66">
<text style="font-size: 6px; font-family: 'DejaVu Sans', sans-serif; text-anchor: end" x="361.92" y="152.46738" transform="rotate(-0 361.92 152.46738)">0.4</text>
</g>
</g>
<g id="ytick_51">
<g id="line2d_143">
<g>
<use href="#mff083b0342" x="365.72" y="133.628143" style="stroke: #000000; stroke-width: 0.5"/>
</g>
</g>
<g id="text_67">
<text style="font-size: 6px; font-family: 'DejaVu Sans', sans-serif; text-anchor: end" x="361.92" y="135.907674" transform="rotate(-0 361.92 135.907674)">0.6</text>
</g>
</g>
<g id="ytick_52">
<g id="line2d_144">
<g>
<use href="#mff083b0342" x="365.72" y="117.068438" style="stroke: #000000; stroke-width: 0.5"/>
</g>
</g>
<g id="text_68">
<text style="font-size: 6px; font-family: 'DejaVu Sans', sans-serif; text-anchor: end" x="361.92" y="119.347969" transform="rotate(-0 361.92 119.347969)">0.8</text>
</g>
</g>
<g id="ytick_53">
<g id="line2d_145">
<g>
<use href="#mff083b0342" x="365.72" y="100.508732" style="stroke: #000000; stroke-width: 0.5"/>
</g>
</g>
<g id="text_69">
<text style="font-size: 6px; font-family: 'DejaVu Sans', sans-serif; text-anchor: end" x="361.92" y="102.788263" transform="rotate(-0 361.92 102.788263)">1.0</text>
</g>
</g>
</g>
<g id="line2d_146">
<path d="M 368.747273 122.615939
L 388.929091 122.615939
L 409.110909 122.615939
L 429.292727 122.615939
" clip-path="url(#p0e6f5938c1)" style="fill: none; stroke-dasharray: 3.26,1.41; stroke-dashoffset: 0; stroke: #ff0000; stroke-width: 1.1"/>
<g clip-path="url(#p0e6f5938c1)">
<use href="#m0c2da7bb96" x="368.747273" y="122.615939" style="fill: #ff0000; stroke: #ff0000; stroke-width: 0.6"/>
<use href="#m0c2da7bb96" x="388.929091" y="122.615939" style="fill: #ff0000; stroke: #ff0000; stroke-width: 0.6"/>
<use href="#m0c2da7bb96" x="409.110909" y="122.615939" style="fill: #ff0000; stroke: #ff0000; stroke-width: 0.6"/>
<use href="#m0c2da7bb96" x="429.292727" y="122.615939" style="fill: #ff0000; stroke: #ff0000; stroke-width: 0.6"/>
</g>
</g>
<g id="line2d_147">
<path d="M 368.747273 108.208995
L 388.929091 153.582588
L 409.110909 157.308522
L 429.292727 158.302104
" clip-path="url(#p0e6f5938c1)" style="fill: none; stroke-dasharray: 3.26,1.41; stroke-dashoffset: 0; stroke: #1f77b4; stroke-width: 1.1"/>
<g clip-path="url(#p0e6f5938c1)">
<use href="#mdfa1281d99" x="368.747273" y="108.208995" style="fill: #1f77b4; stroke: #1f77b4; stroke-width: 0.6"/>
<use href="#mdfa1281d99" x="388.929091" y="153.582588" style="fill: #1f77b4; stroke: #1f77b4; stroke-width: 0.6"/>
<use href="#mdfa1281d99" x="409.110909" y="157.308522" style="fill: #1f77b4; stroke: #1f77b4; stroke-width: 0.6"/>
<use href="#mdfa1281d99" x="429.292727" y="158.302104" style="fill: #1f77b4; stroke: #1f77b4; stroke-width: 0.6"/>
</g>
</g>
<g id="line2d_148">
<path d="M 368.747273 153.996581
L 388.929091 153.913782
L 409.110909 156.894529
L 429.292727 157.556917
" clip-path="url(#p0e6f5938c1)" style="fill: none; stroke-dasharray: 3.26,1.41; stroke-dashoffset: 0; stroke: #008000; stroke-width: 1.1"/>
<g clip-path="url(#p0e6f5938c1)">
<use href="#mad946ed612" x="368.747273" y="153.996581" style="fill: #008000; stroke: #008000; stroke-width: 0.6"/>
<use href="#mad946ed612" x="388.929091" y="153.913782" style="fill: #008000; stroke: #008000; stroke-width: 0.6"/>
<use href="#mad946ed612" x="409.110909" y="156.894529" style="fill: #008000; stroke: #008000; stroke-width: 0.6"/>
<use href="#mad946ed612" x="429.292727" y="157.556917" style="fill: #008000; stroke: #008000; stroke-width: 0.6"/>
</g>
</g>
<g id="line2d_149">
<path d="M 368.747273 153.996581
L 388.929091 154.907365
L 409.110909 158.881694
L 429.292727 156.894529
" clip-path="url(#p0e6f5938c1)" style="fill: none; stroke-dasharray: 3.26,1.41; stroke-dashoffset: 0; stroke: #ffc0cb; stroke-width: 1.1"/>
<g clip-path="url(#p0e6f5938c1)">
<use href="#mf36503d7b8" x="368.747273" y="153.996581" style="fill: #ffc0cb; stroke: #ffc0cb; stroke-width: 0.6"/>
<use href="#mf36503d7b8" x="388.929091" y="154.907365" style="fill: #ffc0cb; stroke: #ffc0cb; stroke-width: 0.6"/>
<use href="#mf36503d7b8" x="409.110909" y="158.881694" style="fill: #ffc0cb; stroke: #ffc0cb; stroke-width: 0.6"/>
<use href="#mf36503d7b8" x="429.292727" y="156.894529" style="fill: #ffc0cb; stroke: #ffc0cb; stroke-width: 0.6"/>
</g>
</g>
<g id="patch_55">
<path d="M 365.72 175.4
L 365.72 96.7
" style="fill: none; stroke: #000000; stroke-width: 0.5; stroke-linejoin: miter; stroke-linecap: square"/>
</g>
<g id="patch_56">
<path d="M 432.32 175.4
L 432.32 96.7
" style="fill: none; stroke: #000000; stroke-width: 0.5; stroke-linejoin: miter; stroke-linecap: square"/>
</g>
<g id="patch_57">
<path d="M 365.72 175.4
L 432.32 175.4
" style="fill: none; stroke: #000000; stroke-width: 0.5; stroke-linejoin: miter; stroke-linecap: square"/>
</g>
<g id="patch_58">
<path d="M 365.72 96.7
L 432.32 96.7
" style="fill: none; stroke: #000000; stroke-width: 0.5; stroke-linejoin: miter; stroke-linecap: square"/>
</g>
</g>
<g id="axes_12">
<g id="patch_59">
<path d="M 449.5 175.4
L 516.1 175.4
L 516.1 96.7
L 449.5 96.7
z
" style="fill: #ffffff"/>
</g>
<g id="matplotlib.axis_23">
<g id="xtick_45">
<g id="line2d_150">
<g>
<use href="#mc1e7c72a07" x="452.527273" y="175.4" style="stroke: #000000; stroke-width: 0.5"/>
</g>
</g>
</g>
<g id="xtick_46">
<g id="line2d_151">
<g>
<use href="#mc1e7c72a07" x="472.709091" y="175.4" style="stroke: #000000; stroke-width: 0.5"/>
</g>
</g>
</g>
<g id="xtick_47">
<g id="line2d_152">
<g>
<use href="#mc1e7c72a07" x="492.890909" y="175.4" style="stroke: #000000; stroke-width: 0.5"/>
</g>
</g>
</g>
<g id="xtick_48">
<g id="line2d_153">
<g>
<use href="#mc1e7c72a07" x="513.072727" y="175.4" style="stroke: #000000; stroke-width: 0.5"/>
</g>
</g>
</g>
</g>
<g id="matplotlib.axis_24">
<g id="ytick_54">
<g id="line2d_154">
<g>
<use href="#mff083b0342" x="449.5" y="166.747554" style="stroke: #000000; stroke-width: 0.5"/>
</g>
</g>
<g id="text_70">
<text style="font-size: 6px; font-family: 'DejaVu Sans', sans-serif; text-anchor: end" x="445.7" y="169.027085" transform="rotate(-0 445.7 169.027085)">0.2</text>
</g>
</g>
<g id="ytick_55">
<g id="line2d_155">
<g>
<use href="#mff083b0342" x="449.5" y="150.187849" style="stroke: #000000; stroke-width: 0.5"/>
</g>
</g>
<g id="text_71">
<text style="font-size: 6px; font-family: 'DejaVu Sans', sans-serif; text-anchor: end" x="445.7" y="152.46738" transform="rotate(-0 445.7 152.46738)">0.4</text>
</g>
</g>
<g id="ytick_56">
<g id="line2d_156">
<g>
<use href="#mff083b0342" x="449.5" y="133.628143" style="stroke: #000000; stroke-width: 0.5"/>
</g>
</g>
<g id="text_72">
<text style="font-size: 6px; font-family: 'DejaVu Sans', sans-serif; text-anchor: end" x="445.7" y="135.907674" transform="rotate(-0 445.7 135.907674)">0.6</text>
</g>
</g>
<g id="ytick_57">
<g id="line2d_157">
<g>
<use href="#mff083b0342" x="449.5" y="117.068438" style="stroke: #000000; stroke-width: 0.5"/>
</g>
</g>
<g id="text_73">
<text style="font-size: 6px; font-family: 'DejaVu Sans', sans-serif; text-anchor: end" x="445.7" y="119.347969" transform="rotate(-0 445.7 119.347969)">0.8</text>
</g>
</g>
<g id="ytick_58">
<g id="line2d_158">
<g>
<use href="#mff083b0342" x="449.5" y="100.508732" style="stroke: #000000; stroke-width: 0.5"/>
</g>
</g>
<g id="text_74">
<text style="font-size: 6px; font-family: 'DejaVu Sans', sans-serif; text-anchor: end" x="445.7" y="102.788263" transform="rotate(-0 445.7 102.788263)">1.0</text>
</g>
</g>
</g>
<g id="line2d_159">
<path d="M 452.527273 100.508732
L 472.709091 100.508732
L 492.890909 100.508732
L 513.072727 100.508732
" clip-path="url(#p6c2de96767)" style="fill: none; stroke-dasharray: 3.26,1.41; stroke-dashoffset: 0; stroke: #ff0000; stroke-width: 1.1"/>
<g clip-path="url(#p6c2de96767)">
<use href="#m0c2da7bb96" x="452.527273" y="100.508732" style="fill: #ff0000; stroke: #ff0000; stroke-width: 0.6"/>
<use href="#m0c2da7bb96" x="472.709091" y="100.508732" style="fill: #ff0000; stroke: #ff0000; stroke-width: 0.6"/>
<use href="#m0c2da7bb96" x="492.890909" y="100.508732" style="fill: #ff0000; stroke: #ff0000; stroke-width: 0.6"/>
<use href="#m0c2da7bb96" x="513.072727" y="100.508732" style="fill: #ff0000; stroke: #ff0000; stroke-width: 0.6"/>
</g>
</g>
<g id="line2d_160">
<path d="M 452.527273 116.406049
L 472.709091 155.569753
L 492.890909 171.963861
L 513.072727 160.620463
" clip-path="url(#p6c2de96767)" style="fill: none; stroke-dasharray: 3.26,1.41; stroke-dashoffset: 0; stroke: #1f77b4; stroke-width: 1.1"/>
<g clip-path="url(#p6c2de96767)">
<use href="#mdfa1281d99" x="452.527273" y="116.406049" style="fill: #1f77b4; stroke: #1f77b4; stroke-width: 0.6"/>
<use href="#mdfa1281d99" x="472.709091" y="155.569753" style="fill: #1f77b4; stroke: #1f77b4; stroke-width: 0.6"/>
<use href="#mdfa1281d99" x="492.890909" y="171.963861" style="fill: #1f77b4; stroke: #1f77b4; stroke-width: 0.6"/>
<use href="#mdfa1281d99" x="513.072727" y="160.620463" style="fill: #1f77b4; stroke: #1f77b4; stroke-width: 0.6"/>
</g>
</g>
<g id="line2d_161">
<path d="M 452.527273 152.506207
L 472.709091 161.862441
L 492.890909 169.314308
L 513.072727 164.594792
" clip-path="url(#p6c2de96767)" style="fill: none; stroke-dasharray: 3.26,1.41; stroke-dashoffset: 0; stroke: #008000; stroke-width: 1.1"/>
<g clip-path="url(#p6c2de96767)">
<use href="#mad946ed612" x="452.527273" y="152.506207" style="fill: #008000; stroke: #008000; stroke-width: 0.6"/>
<use href="#mad946ed612" x="472.709091" y="161.862441" style="fill: #008000; stroke: #008000; stroke-width: 0.6"/>
<use href="#mad946ed612" x="492.890909" y="169.314308" style="fill: #008000; stroke: #008000; stroke-width: 0.6"/>
<use href="#mad946ed612" x="513.072727" y="164.594792" style="fill: #008000; stroke: #008000; stroke-width: 0.6"/>
</g>
</g>
<g id="line2d_162">
<path d="M 452.527273 152.506207
L 472.709091 163.849605
L 492.890909 162.607628
L 513.072727 166.002367
" clip-path="url(#p6c2de96767)" style="fill: none; stroke-dasharray: 3.26,1.41; stroke-dashoffset: 0; stroke: #ffc0cb; stroke-width: 1.1"/>
<g clip-path="url(#p6c2de96767)">
<use href="#mf36503d7b8" x="452.527273" y="152.506207" style="fill: #ffc0cb; stroke: #ffc0cb; stroke-width: 0.6"/>
<use href="#mf36503d7b8" x="472.709091" y="163.849605" style="fill: #ffc0cb; stroke: #ffc0cb; stroke-width: 0.6"/>
<use href="#mf36503d7b8" x="492.890909" y="162.607628" style="fill: #ffc0cb; stroke: #ffc0cb; stroke-width: 0.6"/>
<use href="#mf36503d7b8" x="513.072727" y="166.002367" style="fill: #ffc0cb; stroke: #ffc0cb; stroke-width: 0.6"/>
</g>
</g>
<g id="patch_60">
<path d="M 449.5 175.4
L 449.5 96.7
" style="fill: none; stroke: #000000; stroke-width: 0.5; stroke-linejoin: miter; stroke-linecap: square"/>
</g>
<g id="patch_61">
<path d="M 516.1 175.4
L 516.1 96.7
" style="fill: none; stroke: #000000; stroke-width: 0.5; stroke-linejoin: miter; stroke-linecap: square"/>
</g>
<g id="patch_62">
<path d="M 449.5 175.4
L 516.1 175.4
" style="fill: none; stroke: #000000; stroke-width: 0.5; stroke-linejoin: miter; stroke-linecap: square"/>
</g>
<g id="patch_63">
<path d="M 449.5 96.7
L 516.1 96.7
" style="fill: none; stroke: #000000; stroke-width: 0.5; stroke-linejoin: miter; stroke-linecap: square"/>
</g>
</g>
<g id="axes_13">
<g id="patch_64">
<path d="M 30.6 262.3
L 97.2 262.3
L 97.2 183.6
L 30.6 183.6
z
" style="fill: #ffffff"/>
</g>
<g id="matplotlib.axis_25">
<g id="xtick_49">
<g id="line2d_163">
<g>
<use href="#mc1e7c72a07" x="33.627273" y="262.3" style="stroke: #000000; stroke-width: 0.5"/>
</g>
</g>
<g id="text_75">
<g transform="translate(32.091273 270.44725)">
<text>
<tspan x="0" y="-0.28125" style="font-size: 4.8px; font-family: 'DejaVu Sans', sans-serif">0</tspan>
</text>
</g>
</g>
</g>
<g id="xtick_50">
<g id="line2d_164">
<g>
<use href="#mc1e7c72a07" x="53.809091" y="262.3" style="stroke: #000000; stroke-width: 0.5"/>
</g>
</g>
<g id="text_76">
<g transform="translate(48.169091 270.44725)">
<text>
<tspan x="0" y="-0.482813" style="font-size: 4.8px; font-family: 'DejaVu Sans', sans-serif">1</tspan>
<tspan x="3.022095" y="-0.482813" style="font-size: 4.8px; font-family: 'DejaVu Sans', sans-serif">0</tspan>
<tspan x="6.092041" y="-2.396875" style="font-size: 3.36px; font-family: 'DejaVu Sans', sans-serif">−</tspan>
<tspan x="8.878027" y="-2.396875" style="font-size: 3.36px; font-family: 'DejaVu Sans', sans-serif">2</tspan>
</text>
</g>
</g>
</g>
<g id="xtick_51">
<g id="line2d_165">
<g>
<use href="#mc1e7c72a07" x="73.990909" y="262.3" style="stroke: #000000; stroke-width: 0.5"/>
</g>
</g>
<g id="text_77">
<g transform="translate(63.886909 270.44725)">
<text>
<tspan x="0" y="-0.482813" style="font-size: 4.8px; font-family: 'DejaVu Sans', sans-serif">5</tspan>
<tspan x="3.94751" y="-0.482813" style="font-size: 4.8px; font-family: 'DejaVu Sans', sans-serif">×</tspan>
<tspan x="8.852905" y="-0.482813" style="font-size: 4.8px; font-family: 'DejaVu Sans', sans-serif">1</tspan>
<tspan x="11.875" y="-0.482813" style="font-size: 4.8px; font-family: 'DejaVu Sans', sans-serif">0</tspan>
<tspan x="14.944946" y="-2.396875" style="font-size: 3.36px; font-family: 'DejaVu Sans', sans-serif">−</tspan>
<tspan x="17.730933" y="-2.396875" style="font-size: 3.36px; font-family: 'DejaVu Sans', sans-serif">2</tspan>
</text>
</g>
</g>
</g>
<g id="xtick_52">
<g id="line2d_166">
<g>
<use href="#mc1e7c72a07" x="94.172727" y="262.3" style="stroke: #000000; stroke-width: 0.5"/>
</g>
</g>
<g id="text_78">
<g transform="translate(88.532727 270.44725)">
<text>
<tspan x="0" y="-0.5375" style="font-size: 4.8px; font-family: 'DejaVu Sans', sans-serif">1</tspan>
<tspan x="3.022095" y="-0.5375" style="font-size: 4.8px; font-family: 'DejaVu Sans', sans-serif">0</tspan>
<tspan x="6.092041" y="-2.451563" style="font-size: 3.36px; font-family: 'DejaVu Sans', sans-serif">−</tspan>
<tspan x="8.878027" y="-2.451563" style="font-size: 3.36px; font-family: 'DejaVu Sans', sans-serif">1</tspan>
</text>
</g>
</g>
</g>
</g>
<g id="matplotlib.axis_26">
<g id="ytick_59">
<g id="line2d_167">
<g>
<use href="#mff083b0342" x="30.6" y="262.3" style="stroke: #000000; stroke-width: 0.5"/>
</g>
</g>
<g id="text_79">
<text style="font-size: 6px; font-family: 'DejaVu Sans', sans-serif; text-anchor: end" x="26.8" y="264.579531" transform="rotate(-0 26.8 264.579531)">0.0</text>
</g>
</g>
<g id="ytick_60">
<g id="line2d_168">
<g>
<use href="#mff083b0342" x="30.6" y="246.868627" style="stroke: #000000; stroke-width: 0.5"/>
</g>
</g>
<g id="text_80">
<text style="font-size: 6px; font-family: 'DejaVu Sans', sans-serif; text-anchor: end" x="26.8" y="249.148159" transform="rotate(-0 26.8 249.148159)">0.2</text>
</g>
</g>
<g id="ytick_61">
<g id="line2d_169">
<g>
<use href="#mff083b0342" x="30.6" y="231.437255" style="stroke: #000000; stroke-width: 0.5"/>
</g>
</g>
<g id="text_81">
<text style="font-size: 6px; font-family: 'DejaVu Sans', sans-serif; text-anchor: end" x="26.8" y="233.716786" transform="rotate(-0 26.8 233.716786)">0.4</text>
</g>
</g>
<g id="ytick_62">
<g id="line2d_170">
<g>
<use href="#mff083b0342" x="30.6" y="216.005882" style="stroke: #000000; stroke-width: 0.5"/>
</g>
</g>
<g id="text_82">
<text style="font-size: 6px; font-family: 'DejaVu Sans', sans-serif; text-anchor: end" x="26.8" y="218.285414" transform="rotate(-0 26.8 218.285414)">0.6</text>
</g>
</g>
<g id="ytick_63">
<g id="line2d_171">
<g>
<use href="#mff083b0342" x="30.6" y="200.57451" style="stroke: #000000; stroke-width: 0.5"/>
</g>
</g>
<g id="text_83">
<text style="font-size: 6px; font-family: 'DejaVu Sans', sans-serif; text-anchor: end" x="26.8" y="202.854041" transform="rotate(-0 26.8 202.854041)">0.8</text>
</g>
</g>
<g id="ytick_64">
<g id="line2d_172">
<g>
<use href="#mff083b0342" x="30.6" y="185.143137" style="stroke: #000000; stroke-width: 0.5"/>
</g>
</g>
<g id="text_84">
<text style="font-size: 6px; font-family: 'DejaVu Sans', sans-serif; text-anchor: end" x="26.8" y="187.422669" transform="rotate(-0 26.8 187.422669)">1.0</text>
</g>
</g>
<g id="text_85">
<text style="font-size: 8.6px; font-family: 'DejaVu Sans', sans-serif; text-anchor: middle" x="13.119594" y="224.25" transform="rotate(-90 13.119594 224.25)">Mr</text>
</g>
</g>
<g id="line2d_173">
<path d="M 33.627273 185.143137
L 53.809091 185.143137
L 73.990909 185.143137
L 94.172727 185.143137
" clip-path="url(#p6de2bad4ea)" style="fill: none; stroke-dasharray: 3.26,1.41; stroke-dashoffset: 0; stroke: #ff0000; stroke-width: 1.1"/>
<g clip-path="url(#p6de2bad4ea)">
<use href="#m0c2da7bb96" x="33.627273" y="185.143137" style="fill: #ff0000; stroke: #ff0000; stroke-width: 0.6"/>
<use href="#m0c2da7bb96" x="53.809091" y="185.143137" style="fill: #ff0000; stroke: #ff0000; stroke-width: 0.6"/>
<use href="#m0c2da7bb96" x="73.990909" y="185.143137" style="fill: #ff0000; stroke: #ff0000; stroke-width: 0.6"/>
<use href="#m0c2da7bb96" x="94.172727" y="185.143137" style="fill: #ff0000; stroke: #ff0000; stroke-width: 0.6"/>
</g>
</g>
<g id="line2d_174">
<path d="M 33.627273 185.143137
L 53.809091 188.229412
L 73.990909 198.028333
L 94.172727 204.278039
" clip-path="url(#p6de2bad4ea)" style="fill: none; stroke-dasharray: 3.26,1.41; stroke-dashoffset: 0; stroke: #1f77b4; stroke-width: 1.1"/>
<g clip-path="url(#p6de2bad4ea)">
<use href="#mdfa1281d99" x="33.627273" y="185.143137" style="fill: #1f77b4; stroke: #1f77b4; stroke-width: 0.6"/>
<use href="#mdfa1281d99" x="53.809091" y="188.229412" style="fill: #1f77b4; stroke: #1f77b4; stroke-width: 0.6"/>
<use href="#mdfa1281d99" x="73.990909" y="198.028333" style="fill: #1f77b4; stroke: #1f77b4; stroke-width: 0.6"/>
<use href="#mdfa1281d99" x="94.172727" y="204.278039" style="fill: #1f77b4; stroke: #1f77b4; stroke-width: 0.6"/>
</g>
</g>
<g id="line2d_175">
<path d="M 33.627273 210.604902
L 53.809091 201.346078
L 73.990909 198.028333
L 94.172727 204.278039
" clip-path="url(#p6de2bad4ea)" style="fill: none; stroke-dasharray: 3.26,1.41; stroke-dashoffset: 0; stroke: #008000; stroke-width: 1.1"/>
<g clip-path="url(#p6de2bad4ea)">
<use href="#mad946ed612" x="33.627273" y="210.604902" style="fill: #008000; stroke: #008000; stroke-width: 0.6"/>
<use href="#mad946ed612" x="53.809091" y="201.346078" style="fill: #008000; stroke: #008000; stroke-width: 0.6"/>
<use href="#mad946ed612" x="73.990909" y="198.028333" style="fill: #008000; stroke: #008000; stroke-width: 0.6"/>
<use href="#mad946ed612" x="94.172727" y="204.278039" style="fill: #008000; stroke: #008000; stroke-width: 0.6"/>
</g>
</g>
<g id="line2d_176">
<path d="M 33.627273 206.978529
L 53.809091 207.672941
L 73.990909 198.028333
L 94.172727 198.028333
" clip-path="url(#p6de2bad4ea)" style="fill: none; stroke-dasharray: 3.26,1.41; stroke-dashoffset: 0; stroke: #ffc0cb; stroke-width: 1.1"/>
<g clip-path="url(#p6de2bad4ea)">
<use href="#mf36503d7b8" x="33.627273" y="206.978529" style="fill: #ffc0cb; stroke: #ffc0cb; stroke-width: 0.6"/>
<use href="#mf36503d7b8" x="53.809091" y="207.672941" style="fill: #ffc0cb; stroke: #ffc0cb; stroke-width: 0.6"/>
<use href="#mf36503d7b8" x="73.990909" y="198.028333" style="fill: #ffc0cb; stroke: #ffc0cb; stroke-width: 0.6"/>
<use href="#mf36503d7b8" x="94.172727" y="198.028333" style="fill: #ffc0cb; stroke: #ffc0cb; stroke-width: 0.6"/>
</g>
</g>
<g id="patch_65">
<path d="M 30.6 262.3
L 30.6 183.6
" style="fill: none; stroke: #000000; stroke-width: 0.5; stroke-linejoin: miter; stroke-linecap: square"/>
</g>
<g id="patch_66">
<path d="M 97.2 262.3
L 97.2 183.6
" style="fill: none; stroke: #000000; stroke-width: 0.5; stroke-linejoin: miter; stroke-linecap: square"/>
</g>
<g id="patch_67">
<path d="M 30.6 262.3
L 97.2 262.3
" style="fill: none; stroke: #000000; stroke-width: 0.5; stroke-linejoin: miter; stroke-linecap: square"/>
</g>
<g id="patch_68">
<path d="M 30.6 183.6
L 97.2 183.6
" style="fill: none; stroke: #000000; stroke-width: 0.5; stroke-linejoin: miter; stroke-linecap: square"/>
</g>
<g id="legend_3">
<g id="patch_69">
<path d="M 34.8 259.3
L 62.994375 259.3
Q 64.194375 259.3 64.194375 258.1
L 64.194375 223.4725
Q 64.194375 222.2725 62.994375 222.2725
L 34.8 222.2725
Q 33.6 222.2725 33.6 223.4725
L 33.6 258.1
Q 33.6 259.3 34.8 259.3
z
" style="fill: #ffffff; opacity: 0.8; stroke: #cccccc; stroke-width: 0.5; stroke-linejoin: miter"/>
</g>
<g id="line2d_177">
<path d="M 36 227.131563
L 42 227.131563
L 48 227.131563
" style="fill: none; stroke-dasharray: 3.26,1.41; stroke-dashoffset: 0; stroke: #ff0000; stroke-width: 1.1"/>
<g>
<use href="#m0c2da7bb96" x="42" y="227.131563" style="fill: #ff0000; stroke: #ff0000; stroke-width: 0.6"/>
</g>
</g>
<g id="text_86">
<text style="font-size: 6px; font-family: 'DejaVu Sans', sans-serif; text-anchor: start" x="52.8" y="229.231562" transform="rotate(-0 52.8 229.231562)">M1</text>
</g>
<g id="line2d_178">
<path d="M 36 235.938437
L 42 235.938437
L 48 235.938437
" style="fill: none; stroke-dasharray: 3.26,1.41; stroke-dashoffset: 0; stroke: #1f77b4; stroke-width: 1.1"/>
<g>
<use href="#mdfa1281d99" x="42" y="235.938437" style="fill: #1f77b4; stroke: #1f77b4; stroke-width: 0.6"/>
</g>
</g>
<g id="text_87">
<text style="font-size: 6px; font-family: 'DejaVu Sans', sans-serif; text-anchor: start" x="52.8" y="238.038437" transform="rotate(-0 52.8 238.038437)">M2</text>
</g>
<g id="line2d_179">
<path d="M 36 244.745313
L 42 244.745313
L 48 244.745313
" style="fill: none; stroke-dasharray: 3.26,1.41; stroke-dashoffset: 0; stroke: #008000; stroke-width: 1.1"/>
<g>
<use href="#mad946ed612" x="42" y="244.745313" style="fill: #008000; stroke: #008000; stroke-width: 0.6"/>
</g>
</g>
<g id="text_88">
<text style="font-size: 6px; font-family: 'DejaVu Sans', sans-serif; text-anchor: start" x="52.8" y="246.845313" transform="rotate(-0 52.8 246.845313)">M3</text>
</g>
<g id="line2d_180">
<path d="M 36 253.552188
L 42 253.552188
L 48 253.552188
" style="fill: none; stroke-dasharray: 3.26,1.41; stroke-dashoffset: 0; stroke: #ffc0cb; stroke-width: 1.1"/>
<g>
<use href="#mf36503d7b8" x="42" y="253.552188" style="fill: #ffc0cb; stroke: #ffc0cb; stroke-width: 0.6"/>
</g>
</g>
<g id="text_89">
<text style="font-size: 6px; font-family: 'DejaVu Sans', sans-serif; text-anchor: start" x="52.8" y="255.652187" transform="rotate(-0 52.8 255.652187)">M4</text>
</g>
</g>
</g>
<g id="axes_14">
<g id="patch_70">
<path d="M 114.38 262.3
L 180.98 262.3
L 180.98 183.6
L 114.38 183.6
z
" style="fill: #ffffff"/>
</g>
<g id="matplotlib.axis_27">
<g id="xtick_53">
<g id="line2d_181">
<g>
<use href="#mc1e7c72a07" x="117.407273" y="262.3" style="stroke: #000000; stroke-width: 0.5"/>
</g>
</g>
<g id="text_90">
<g transform="translate(115.871273 270.44725)">
<text>
<tspan x="0" y="-0.28125" style="font-size: 4.8px; font-family: 'DejaVu Sans', sans-serif">0</tspan>
</text>
</g>
</g>
</g>
<g id="xtick_54">
<g id="line2d_182">
<g>
<use href="#mc1e7c72a07" x="137.589091" y="262.3" style="stroke: #000000; stroke-width: 0.5"/>
</g>
</g>
<g id="text_91">
<g transform="translate(131.949091 270.44725)">
<text>
<tspan x="0" y="-0.482813" style="font-size: 4.8px; font-family: 'DejaVu Sans', sans-serif">1</tspan>
<tspan x="3.022095" y="-0.482813" style="font-size: 4.8px; font-family: 'DejaVu Sans', sans-serif">0</tspan>
<tspan x="6.092041" y="-2.396875" style="font-size: 3.36px; font-family: 'DejaVu Sans', sans-serif">−</tspan>
<tspan x="8.878027" y="-2.396875" style="font-size: 3.36px; font-family: 'DejaVu Sans', sans-serif">2</tspan>
</text>
</g>
</g>
</g>
<g id="xtick_55">
<g id="line2d_183">
<g>
<use href="#mc1e7c72a07" x="157.770909" y="262.3" style="stroke: #000000; stroke-width: 0.5"/>
</g>
</g>
<g id="text_92">
<g transform="translate(147.666909 270.44725)">
<text>
<tspan x="0" y="-0.482813" style="font-size: 4.8px; font-family: 'DejaVu Sans', sans-serif">5</tspan>
<tspan x="3.94751" y="-0.482813" style="font-size: 4.8px; font-family: 'DejaVu Sans', sans-serif">×</tspan>
<tspan x="8.852905" y="-0.482813" style="font-size: 4.8px; font-family: 'DejaVu Sans', sans-serif">1</tspan>
<tspan x="11.875" y="-0.482813" style="font-size: 4.8px; font-family: 'DejaVu Sans', sans-serif">0</tspan>
<tspan x="14.944946" y="-2.396875" style="font-size: 3.36px; font-family: 'DejaVu Sans', sans-serif">−</tspan>
<tspan x="17.730933" y="-2.396875" style="font-size: 3.36px; font-family: 'DejaVu Sans', sans-serif">2</tspan>
</text>
</g>
</g>
</g>
<g id="xtick_56">
<g id="line2d_184">
<g>
<use href="#mc1e7c72a07" x="177.952727" y="262.3" style="stroke: #000000; stroke-width: 0.5"/>
</g>
</g>
<g id="text_93">
<g transform="translate(172.312727 270.44725)">
<text>
<tspan x="0" y="-0.5375" style="font-size: 4.8px; font-family: 'DejaVu Sans', sans-serif">1</tspan>
<tspan x="3.022095" y="-0.5375" style="font-size: 4.8px; font-family: 'DejaVu Sans', sans-serif">0</tspan>
<tspan x="6.092041" y="-2.451563" style="font-size: 3.36px; font-family: 'DejaVu Sans', sans-serif">−</tspan>
<tspan x="8.878027" y="-2.451563" style="font-size: 3.36px; font-family: 'DejaVu Sans', sans-serif">1</tspan>
</text>
</g>
</g>
</g>
</g>
<g id="matplotlib.axis_28">
<g id="ytick_65">
<g id="line2d_185">
<g>
<use href="#mff083b0342" x="114.38" y="262.3" style="stroke: #000000; stroke-width: 0.5"/>
</g>
</g>
<g id="text_94">
<text style="font-size: 6px; font-family: 'DejaVu Sans', sans-serif; text-anchor: end" x="110.58" y="264.579531" transform="rotate(-0 110.58 264.579531)">0.0</text>
</g>
</g>
<g id="ytick_66">
<g id="line2d_186">
<g>
<use href="#mff083b0342" x="114.38" y="246.868627" style="stroke: #000000; stroke-width: 0.5"/>
</g>
</g>
<g id="text_95">
<text style="font-size: 6px; font-family: 'DejaVu Sans', sans-serif; text-anchor: end" x="110.58" y="249.148159" transform="rotate(-0 110.58 249.148159)">0.2</text>
</g>
</g>
<g id="ytick_67">
<g id="line2d_187">
<g>
<use href="#mff083b0342" x="114.38" y="231.437255" style="stroke: #000000; stroke-width: 0.5"/>
</g>
</g>
<g id="text_96">
<text style="font-size: 6px; font-family: 'DejaVu Sans', sans-serif; text-anchor: end" x="110.58" y="233.716786" transform="rotate(-0 110.58 233.716786)">0.4</text>
</g>
</g>
<g id="ytick_68">
<g id="line2d_188">
<g>
<use href="#mff083b0342" x="114.38" y="216.005882" style="stroke: #000000; stroke-width: 0.5"/>
</g>
</g>
<g id="text_97">
<text style="font-size: 6px; font-family: 'DejaVu Sans', sans-serif; text-anchor: end" x="110.58" y="218.285414" transform="rotate(-0 110.58 218.285414)">0.6</text>
</g>
</g>
<g id="ytick_69">
<g id="line2d_189">
<g>
<use href="#mff083b0342" x="114.38" y="200.57451" style="stroke: #000000; stroke-width: 0.5"/>
</g>
</g>
<g id="text_98">
<text style="font-size: 6px; font-family: 'DejaVu Sans', sans-serif; text-anchor: end" x="110.58" y="202.854041" transform="rotate(-0 110.58 202.854041)">0.8</text>
</g>
</g>
<g id="ytick_70">
<g id="line2d_190">
<g>
<use href="#mff083b0342" x="114.38" y="185.143137" style="stroke: #000000; stroke-width: 0.5"/>
</g>
</g>
<g id="text_99">
<text style="font-size: 6px; font-family: 'DejaVu Sans', sans-serif; text-anchor: end" x="110.58" y="187.422669" transform="rotate(-0 110.58 187.422669)">1.0</text>
</g>
</g>
</g>
<g id="line2d_191">
<path d="M 117.407273 190.23549
L 137.589091 190.23549
L 157.770909 190.23549
L 177.952727 190.23549
" clip-path="url(#p6d6afd3929)" style="fill: none; stroke-dasharray: 3.26,1.41; stroke-dashoffset: 0; stroke: #ff0000; stroke-width: 1.1"/>
<g clip-path="url(#p6d6afd3929)">
<use href="#m0c2da7bb96" x="117.407273" y="190.23549" style="fill: #ff0000; stroke: #ff0000; stroke-width: 0.6"/>
<use href="#m0c2da7bb96" x="137.589091" y="190.23549" style="fill: #ff0000; stroke: #ff0000; stroke-width: 0.6"/>
<use href="#m0c2da7bb96" x="157.770909" y="190.23549" style="fill: #ff0000; stroke: #ff0000; stroke-width: 0.6"/>
<use href="#m0c2da7bb96" x="177.952727" y="190.23549" style="fill: #ff0000; stroke: #ff0000; stroke-width: 0.6"/>
</g>
</g>
<g id="line2d_192">
<path d="M 117.407273 185.143137
L 137.589091 221.021078
L 157.770909 221.406863
L 177.952727 221.406863
" clip-path="url(#p6d6afd3929)" style="fill: none; stroke-dasharray: 3.26,1.41; stroke-dashoffset: 0; stroke: #1f77b4; stroke-width: 1.1"/>
<g clip-path="url(#p6d6afd3929)">
<use href="#mdfa1281d99" x="117.407273" y="185.143137" style="fill: #1f77b4; stroke: #1f77b4; stroke-width: 0.6"/>
<use href="#mdfa1281d99" x="137.589091" y="221.021078" style="fill: #1f77b4; stroke: #1f77b4; stroke-width: 0.6"/>
<use href="#mdfa1281d99" x="157.770909" y="221.406863" style="fill: #1f77b4; stroke: #1f77b4; stroke-width: 0.6"/>
<use href="#mdfa1281d99" x="177.952727" y="221.406863" style="fill: #1f77b4; stroke: #1f77b4; stroke-width: 0.6"/>
</g>
</g>
<g id="line2d_193">
<path d="M 117.407273 197.488235
L 137.589091 218.243431
L 157.770909 229.276863
L 177.952727 221.406863
" clip-path="url(#p6d6afd3929)" style="fill: none; stroke-dasharray: 3.26,1.41; stroke-dashoffset: 0; stroke: #008000; stroke-width: 1.1"/>
<g clip-path="url(#p6d6afd3929)">
<use href="#mad946ed612" x="117.407273" y="197.488235" style="fill: #008000; stroke: #008000; stroke-width: 0.6"/>
<use href="#mad946ed612" x="137.589091" y="218.243431" style="fill: #008000; stroke: #008000; stroke-width: 0.6"/>
<use href="#mad946ed612" x="157.770909" y="229.276863" style="fill: #008000; stroke: #008000; stroke-width: 0.6"/>
<use href="#mad946ed612" x="177.952727" y="221.406863" style="fill: #008000; stroke: #008000; stroke-width: 0.6"/>
</g>
</g>
<g id="line2d_194">
<path d="M 117.407273 200.57451
L 137.589091 221.638333
L 157.770909 229.276863
L 177.952727 217.78049
" clip-path="url(#p6d6afd3929)" style="fill: none; stroke-dasharray: 3.26,1.41; stroke-dashoffset: 0; stroke: #ffc0cb; stroke-width: 1.1"/>
<g clip-path="url(#p6d6afd3929)">
<use href="#mf36503d7b8" x="117.407273" y="200.57451" style="fill: #ffc0cb; stroke: #ffc0cb; stroke-width: 0.6"/>
<use href="#mf36503d7b8" x="137.589091" y="221.638333" style="fill: #ffc0cb; stroke: #ffc0cb; stroke-width: 0.6"/>
<use href="#mf36503d7b8" x="157.770909" y="229.276863" style="fill: #ffc0cb; stroke: #ffc0cb; stroke-width: 0.6"/>
<use href="#mf36503d7b8" x="177.952727" y="217.78049" style="fill: #ffc0cb; stroke: #ffc0cb; stroke-width: 0.6"/>
</g>
</g>
<g id="patch_71">
<path d="M 114.38 262.3
L 114.38 183.6
" style="fill: none; stroke: #000000; stroke-width: 0.5; stroke-linejoin: miter; stroke-linecap: square"/>
</g>
<g id="patch_72">
<path d="M 180.98 262.3
L 180.98 183.6
" style="fill: none; stroke: #000000; stroke-width: 0.5; stroke-linejoin: miter; stroke-linecap: square"/>
</g>
<g id="patch_73">
<path d="M 114.38 262.3
L 180.98 262.3
" style="fill: none; stroke: #000000; stroke-width: 0.5; stroke-linejoin: miter; stroke-linecap: square"/>
</g>
<g id="patch_74">
<path d="M 114.38 183.6
L 180.98 183.6
" style="fill: none; stroke: #000000; stroke-width: 0.5; stroke-linejoin: miter; stroke-linecap: square"/>
</g>
</g>
<g id="axes_15">
<g id="patch_75">
<path d="M 198.16 262.3
L 264.76 262.3
L 264.76 183.6
L 198.16 183.6
z
" style="fill: #ffffff"/>
</g>
<g id="matplotlib.axis_29">
<g id="xtick_57">
<g id="line2d_195">
<g>
<use href="#mc1e7c72a07" x="201.187273" y="262.3" style="stroke: #000000; stroke-width: 0.5"/>
</g>
</g>
<g id="text_100">
<g transform="translate(199.651273 270.44725)">
<text>
<tspan x="0" y="-0.28125" style="font-size: 4.8px; font-family: 'DejaVu Sans', sans-serif">0</tspan>
</text>
</g>
</g>
</g>
<g id="xtick_58">
<g id="line2d_196">
<g>
<use href="#mc1e7c72a07" x="221.369091" y="262.3" style="stroke: #000000; stroke-width: 0.5"/>
</g>
</g>
<g id="text_101">
<g transform="translate(215.729091 270.44725)">
<text>
<tspan x="0" y="-0.482813" style="font-size: 4.8px; font-family: 'DejaVu Sans', sans-serif">1</tspan>
<tspan x="3.022095" y="-0.482813" style="font-size: 4.8px; font-family: 'DejaVu Sans', sans-serif">0</tspan>
<tspan x="6.092041" y="-2.396875" style="font-size: 3.36px; font-family: 'DejaVu Sans', sans-serif">−</tspan>
<tspan x="8.878027" y="-2.396875" style="font-size: 3.36px; font-family: 'DejaVu Sans', sans-serif">2</tspan>
</text>
</g>
</g>
</g>
<g id="xtick_59">
<g id="line2d_197">
<g>
<use href="#mc1e7c72a07" x="241.550909" y="262.3" style="stroke: #000000; stroke-width: 0.5"/>
</g>
</g>
<g id="text_102">
<g transform="translate(231.446909 270.44725)">
<text>
<tspan x="0" y="-0.482813" style="font-size: 4.8px; font-family: 'DejaVu Sans', sans-serif">5</tspan>
<tspan x="3.94751" y="-0.482813" style="font-size: 4.8px; font-family: 'DejaVu Sans', sans-serif">×</tspan>
<tspan x="8.852905" y="-0.482813" style="font-size: 4.8px; font-family: 'DejaVu Sans', sans-serif">1</tspan>
<tspan x="11.875" y="-0.482813" style="font-size: 4.8px; font-family: 'DejaVu Sans', sans-serif">0</tspan>
<tspan x="14.944946" y="-2.396875" style="font-size: 3.36px; font-family: 'DejaVu Sans', sans-serif">−</tspan>
<tspan x="17.730933" y="-2.396875" style="font-size: 3.36px; font-family: 'DejaVu Sans', sans-serif">2</tspan>
</text>
</g>
</g>
</g>
<g id="xtick_60">
<g id="line2d_198">
<g>
<use href="#mc1e7c72a07" x="261.732727" y="262.3" style="stroke: #000000; stroke-width: 0.5"/>
</g>
</g>
<g id="text_103">
<g transform="translate(256.092727 270.44725)">
<text>
<tspan x="0" y="-0.5375" style="font-size: 4.8px; font-family: 'DejaVu Sans', sans-serif">1</tspan>
<tspan x="3.022095" y="-0.5375" style="font-size: 4.8px; font-family: 'DejaVu Sans', sans-serif">0</tspan>
<tspan x="6.092041" y="-2.451563" style="font-size: 3.36px; font-family: 'DejaVu Sans', sans-serif">−</tspan>
<tspan x="8.878027" y="-2.451563" style="font-size: 3.36px; font-family: 'DejaVu Sans', sans-serif">1</tspan>
</text>
</g>
</g>
</g>
</g>
<g id="matplotlib.axis_30">
<g id="ytick_71">
<g id="line2d_199">
<g>
<use href="#mff083b0342" x="198.16" y="262.3" style="stroke: #000000; stroke-width: 0.5"/>
</g>
</g>
<g id="text_104">
<text style="font-size: 6px; font-family: 'DejaVu Sans', sans-serif; text-anchor: end" x="194.36" y="264.579531" transform="rotate(-0 194.36 264.579531)">0.0</text>
</g>
</g>
<g id="ytick_72">
<g id="line2d_200">
<g>
<use href="#mff083b0342" x="198.16" y="246.868627" style="stroke: #000000; stroke-width: 0.5"/>
</g>
</g>
<g id="text_105">
<text style="font-size: 6px; font-family: 'DejaVu Sans', sans-serif; text-anchor: end" x="194.36" y="249.148159" transform="rotate(-0 194.36 249.148159)">0.2</text>
</g>
</g>
<g id="ytick_73">
<g id="line2d_201">
<g>
<use href="#mff083b0342" x="198.16" y="231.437255" style="stroke: #000000; stroke-width: 0.5"/>
</g>
</g>
<g id="text_106">
<text style="font-size: 6px; font-family: 'DejaVu Sans', sans-serif; text-anchor: end" x="194.36" y="233.716786" transform="rotate(-0 194.36 233.716786)">0.4</text>
</g>
</g>
<g id="ytick_74">
<g id="line2d_202">
<g>
<use href="#mff083b0342" x="198.16" y="216.005882" style="stroke: #000000; stroke-width: 0.5"/>
</g>
</g>
<g id="text_107">
<text style="font-size: 6px; font-family: 'DejaVu Sans', sans-serif; text-anchor: end" x="194.36" y="218.285414" transform="rotate(-0 194.36 218.285414)">0.6</text>
</g>
</g>
<g id="ytick_75">
<g id="line2d_203">
<g>
<use href="#mff083b0342" x="198.16" y="200.57451" style="stroke: #000000; stroke-width: 0.5"/>
</g>
</g>
<g id="text_108">
<text style="font-size: 6px; font-family: 'DejaVu Sans', sans-serif; text-anchor: end" x="194.36" y="202.854041" transform="rotate(-0 194.36 202.854041)">0.8</text>
</g>
</g>
<g id="ytick_76">
<g id="line2d_204">
<g>
<use href="#mff083b0342" x="198.16" y="185.143137" style="stroke: #000000; stroke-width: 0.5"/>
</g>
</g>
<g id="text_109">
<text style="font-size: 6px; font-family: 'DejaVu Sans', sans-serif; text-anchor: end" x="194.36" y="187.422669" transform="rotate(-0 194.36 187.422669)">1.0</text>
</g>
</g>
</g>
<g id="line2d_205">
<path d="M 201.187273 185.143137
L 221.369091 185.143137
L 241.550909 185.143137
L 261.732727 185.143137
" clip-path="url(#pce1ca88837)" style="fill: none; stroke-dasharray: 3.26,1.41; stroke-dashoffset: 0; stroke: #ff0000; stroke-width: 1.1"/>
<g clip-path="url(#pce1ca88837)">
<use href="#m0c2da7bb96" x="201.187273" y="185.143137" style="fill: #ff0000; stroke: #ff0000; stroke-width: 0.6"/>
<use href="#m0c2da7bb96" x="221.369091" y="185.143137" style="fill: #ff0000; stroke: #ff0000; stroke-width: 0.6"/>
<use href="#m0c2da7bb96" x="241.550909" y="185.143137" style="fill: #ff0000; stroke: #ff0000; stroke-width: 0.6"/>
<use href="#m0c2da7bb96" x="261.732727" y="185.143137" style="fill: #ff0000; stroke: #ff0000; stroke-width: 0.6"/>
</g>
</g>
<g id="line2d_206">
<path d="M 201.187273 185.143137
L 221.369091 185.143137
L 241.550909 185.143137
L 261.732727 186.30049
" clip-path="url(#pce1ca88837)" style="fill: none; stroke-dasharray: 3.26,1.41; stroke-dashoffset: 0; stroke: #1f77b4; stroke-width: 1.1"/>
<g clip-path="url(#pce1ca88837)">
<use href="#mdfa1281d99" x="201.187273" y="185.143137" style="fill: #1f77b4; stroke: #1f77b4; stroke-width: 0.6"/>
<use href="#mdfa1281d99" x="221.369091" y="185.143137" style="fill: #1f77b4; stroke: #1f77b4; stroke-width: 0.6"/>
<use href="#mdfa1281d99" x="241.550909" y="185.143137" style="fill: #1f77b4; stroke: #1f77b4; stroke-width: 0.6"/>
<use href="#mdfa1281d99" x="261.732727" y="186.30049" style="fill: #1f77b4; stroke: #1f77b4; stroke-width: 0.6"/>
</g>
</g>
<g id="line2d_207">
<path d="M 201.187273 185.143137
L 221.369091 185.143137
L 241.550909 185.143137
L 261.732727 187.843627
" clip-path="url(#pce1ca88837)" style="fill: none; stroke-dasharray: 3.26,1.41; stroke-dashoffset: 0; stroke: #008000; stroke-width: 1.1"/>
<g clip-path="url(#pce1ca88837)">
<use href="#mad946ed612" x="201.187273" y="185.143137" style="fill: #008000; stroke: #008000; stroke-width: 0.6"/>
<use href="#mad946ed612" x="221.369091" y="185.143137" style="fill: #008000; stroke: #008000; stroke-width: 0.6"/>
<use href="#mad946ed612" x="241.550909" y="185.143137" style="fill: #008000; stroke: #008000; stroke-width: 0.6"/>
<use href="#mad946ed612" x="261.732727" y="187.843627" style="fill: #008000; stroke: #008000; stroke-width: 0.6"/>
</g>
</g>
<g id="line2d_208">
<path d="M 201.187273 186.30049
L 221.369091 187.843627
L 241.550909 185.143137
L 261.732727 190.158333
" clip-path="url(#pce1ca88837)" style="fill: none; stroke-dasharray: 3.26,1.41; stroke-dashoffset: 0; stroke: #ffc0cb; stroke-width: 1.1"/>
<g clip-path="url(#pce1ca88837)">
<use href="#mf36503d7b8" x="201.187273" y="186.30049" style="fill: #ffc0cb; stroke: #ffc0cb; stroke-width: 0.6"/>
<use href="#mf36503d7b8" x="221.369091" y="187.843627" style="fill: #ffc0cb; stroke: #ffc0cb; stroke-width: 0.6"/>
<use href="#mf36503d7b8" x="241.550909" y="185.143137" style="fill: #ffc0cb; stroke: #ffc0cb; stroke-width: 0.6"/>
<use href="#mf36503d7b8" x="261.732727" y="190.158333" style="fill: #ffc0cb; stroke: #ffc0cb; stroke-width: 0.6"/>
</g>
</g>
<g id="patch_76">
<path d="M 198.16 262.3
L 198.16 183.6
" style="fill: none; stroke: #000000; stroke-width: 0.5; stroke-linejoin: miter; stroke-linecap: square"/>
</g>
<g id="patch_77">
<path d="M 264.76 262.3
L 264.76 183.6
" style="fill: none; stroke: #000000; stroke-width: 0.5; stroke-linejoin: miter; stroke-linecap: square"/>
</g>
<g id="patch_78">
<path d="M 198.16 262.3
L 264.76 262.3
" style="fill: none; stroke: #000000; stroke-width: 0.5; stroke-linejoin: miter; stroke-linecap: square"/>
</g>
<g id="patch_79">
<path d="M 198.16 183.6
L 264.76 183.6
" style="fill: none; stroke: #000000; stroke-width: 0.5; stroke-linejoin: miter; stroke-linecap: square"/>
</g>
</g>
<g id="axes_16">
<g id="patch_80">
<path d="M 281.94 262.3
L 348.54 262.3
L 348.54 183.6
L 281.94 183.6
z
" style="fill: #ffffff"/>
</g>
<g id="matplotlib.axis_31">
<g id="xtick_61">
<g id="line2d_209">
<g>
<use href="#mc1e7c72a07" x="284.967273" y="262.3" style="stroke: #000000; stroke-width: 0.5"/>
</g>
</g>
<g id="text_110">
<g transform="translate(283.431273 270.44725)">
<text>
<tspan x="0" y="-0.28125" style="font-size: 4.8px; font-family: 'DejaVu Sans', sans-serif">0</tspan>
</text>
</g>
</g>
</g>
<g id="xtick_62">
<g id="line2d_210">
<g>
<use href="#mc1e7c72a07" x="305.149091" y="262.3" style="stroke: #000000; stroke-width: 0.5"/>
</g>
</g>
<g id="text_111">
<g transform="translate(299.509091 270.44725)">
<text>
<tspan x="0" y="-0.482813" style="font-size: 4.8px; font-family: 'DejaVu Sans', sans-serif">1</tspan>
<tspan x="3.022095" y="-0.482813" style="font-size: 4.8px; font-family: 'DejaVu Sans', sans-serif">0</tspan>
<tspan x="6.092041" y="-2.396875" style="font-size: 3.36px; font-family: 'DejaVu Sans', sans-serif">−</tspan>
<tspan x="8.878027" y="-2.396875" style="font-size: 3.36px; font-family: 'DejaVu Sans', sans-serif">2</tspan>
</text>
</g>
</g>
</g>
<g id="xtick_63">
<g id="line2d_211">
<g>
<use href="#mc1e7c72a07" x="325.330909" y="262.3" style="stroke: #000000; stroke-width: 0.5"/>
</g>
</g>
<g id="text_112">
<g transform="translate(315.226909 270.44725)">
<text>
<tspan x="0" y="-0.482813" style="font-size: 4.8px; font-family: 'DejaVu Sans', sans-serif">5</tspan>
<tspan x="3.94751" y="-0.482813" style="font-size: 4.8px; font-family: 'DejaVu Sans', sans-serif">×</tspan>
<tspan x="8.852905" y="-0.482813" style="font-size: 4.8px; font-family: 'DejaVu Sans', sans-serif">1</tspan>
<tspan x="11.875" y="-0.482813" style="font-size: 4.8px; font-family: 'DejaVu Sans', sans-serif">0</tspan>
<tspan x="14.944946" y="-2.396875" style="font-size: 3.36px; font-family: 'DejaVu Sans', sans-serif">−</tspan>
<tspan x="17.730933" y="-2.396875" style="font-size: 3.36px; font-family: 'DejaVu Sans', sans-serif">2</tspan>
</text>
</g>
</g>
</g>
<g id="xtick_64">
<g id="line2d_212">
<g>
<use href="#mc1e7c72a07" x="345.512727" y="262.3" style="stroke: #000000; stroke-width: 0.5"/>
</g>
</g>
<g id="text_113">
<g transform="translate(339.872727 270.44725)">
<text>
<tspan x="0" y="-0.5375" style="font-size: 4.8px; font-family: 'DejaVu Sans', sans-serif">1</tspan>
<tspan x="3.022095" y="-0.5375" style="font-size: 4.8px; font-family: 'DejaVu Sans', sans-serif">0</tspan>
<tspan x="6.092041" y="-2.451563" style="font-size: 3.36px; font-family: 'DejaVu Sans', sans-serif">−</tspan>
<tspan x="8.878027" y="-2.451563" style="font-size: 3.36px; font-family: 'DejaVu Sans', sans-serif">1</tspan>
</text>
</g>
</g>
</g>
</g>
<g id="matplotlib.axis_32">
<g id="ytick_77">
<g id="line2d_213">
<g>
<use href="#mff083b0342" x="281.94" y="262.3" style="stroke: #000000; stroke-width: 0.5"/>
</g>
</g>
<g id="text_114">
<text style="font-size: 6px; font-family: 'DejaVu Sans', sans-serif; text-anchor: end" x="278.14" y="264.579531" transform="rotate(-0 278.14 264.579531)">0.0</text>
</g>
</g>
<g id="ytick_78">
<g id="line2d_214">
<g>
<use href="#mff083b0342" x="281.94" y="246.868627" style="stroke: #000000; stroke-width: 0.5"/>
</g>
</g>
<g id="text_115">
<text style="font-size: 6px; font-family: 'DejaVu Sans', sans-serif; text-anchor: end" x="278.14" y="249.148159" transform="rotate(-0 278.14 249.148159)">0.2</text>
</g>
</g>
<g id="ytick_79">
<g id="line2d_215">
<g>
<use href="#mff083b0342" x="281.94" y="231.437255" style="stroke: #000000; stroke-width: 0.5"/>
</g>
</g>
<g id="text_116">
<text style="font-size: 6px; font-family: 'DejaVu Sans', sans-serif; text-anchor: end" x="278.14" y="233.716786" transform="rotate(-0 278.14 233.716786)">0.4</text>
</g>
</g>
<g id="ytick_80">
<g id="line2d_216">
<g>
<use href="#mff083b0342" x="281.94" y="216.005882" style="stroke: #000000; stroke-width: 0.5"/>
</g>
</g>
<g id="text_117">
<text style="font-size: 6px; font-family: 'DejaVu Sans', sans-serif; text-anchor: end" x="278.14" y="218.285414" transform="rotate(-0 278.14 218.285414)">0.6</text>
</g>
</g>
<g id="ytick_81">
<g id="line2d_217">
<g>
<use href="#mff083b0342" x="281.94" y="200.57451" style="stroke: #000000; stroke-width: 0.5"/>
</g>
</g>
<g id="text_118">
<text style="font-size: 6px; font-family: 'DejaVu Sans', sans-serif; text-anchor: end" x="278.14" y="202.854041" transform="rotate(-0 278.14 202.854041)">0.8</text>
</g>
</g>
<g id="ytick_82">
<g id="line2d_218">
<g>
<use href="#mff083b0342" x="281.94" y="185.143137" style="stroke: #000000; stroke-width: 0.5"/>
</g>
</g>
<g id="text_119">
<text style="font-size: 6px; font-family: 'DejaVu Sans', sans-serif; text-anchor: end" x="278.14" y="187.422669" transform="rotate(-0 278.14 187.422669)">1.0</text>
</g>
</g>
</g>
<g id="line2d_219">
<path d="M 284.967273 185.143137
L 305.149091 185.143137
L 325.330909 185.143137
L 345.512727 185.143137
" clip-path="url(#p34a77fc4bd)" style="fill: none; stroke-dasharray: 3.26,1.41; stroke-dashoffset: 0; stroke: #ff0000; stroke-width: 1.1"/>
<g clip-path="url(#p34a77fc4bd)">
<use href="#m0c2da7bb96" x="284.967273" y="185.143137" style="fill: #ff0000; stroke: #ff0000; stroke-width: 0.6"/>
<use href="#m0c2da7bb96" x="305.149091" y="185.143137" style="fill: #ff0000; stroke: #ff0000; stroke-width: 0.6"/>
<use href="#m0c2da7bb96" x="325.330909" y="185.143137" style="fill: #ff0000; stroke: #ff0000; stroke-width: 0.6"/>
<use href="#m0c2da7bb96" x="345.512727" y="185.143137" style="fill: #ff0000; stroke: #ff0000; stroke-width: 0.6"/>
</g>
</g>
<g id="line2d_220">
<path d="M 284.967273 185.143137
L 305.149091 185.143137
L 325.330909 185.143137
L 345.512727 185.143137
" clip-path="url(#p34a77fc4bd)" style="fill: none; stroke-dasharray: 3.26,1.41; stroke-dashoffset: 0; stroke: #1f77b4; stroke-width: 1.1"/>
<g clip-path="url(#p34a77fc4bd)">
<use href="#mdfa1281d99" x="284.967273" y="185.143137" style="fill: #1f77b4; stroke: #1f77b4; stroke-width: 0.6"/>
<use href="#mdfa1281d99" x="305.149091" y="185.143137" style="fill: #1f77b4; stroke: #1f77b4; stroke-width: 0.6"/>
<use href="#mdfa1281d99" x="325.330909" y="185.143137" style="fill: #1f77b4; stroke: #1f77b4; stroke-width: 0.6"/>
<use href="#mdfa1281d99" x="345.512727" y="185.143137" style="fill: #1f77b4; stroke: #1f77b4; stroke-width: 0.6"/>
</g>
</g>
<g id="line2d_221">
<path d="M 284.967273 185.143137
L 305.149091 185.143137
L 325.330909 185.143137
L 345.512727 185.143137
" clip-path="url(#p34a77fc4bd)" style="fill: none; stroke-dasharray: 3.26,1.41; stroke-dashoffset: 0; stroke: #008000; stroke-width: 1.1"/>
<g clip-path="url(#p34a77fc4bd)">
<use href="#mad946ed612" x="284.967273" y="185.143137" style="fill: #008000; stroke: #008000; stroke-width: 0.6"/>
<use href="#mad946ed612" x="305.149091" y="185.143137" style="fill: #008000; stroke: #008000; stroke-width: 0.6"/>
<use href="#mad946ed612" x="325.330909" y="185.143137" style="fill: #008000; stroke: #008000; stroke-width: 0.6"/>
<use href="#mad946ed612" x="345.512727" y="185.143137" style="fill: #008000; stroke: #008000; stroke-width: 0.6"/>
</g>
</g>
<g id="line2d_222">
<path d="M 284.967273 190.544118
L 305.149091 190.544118
L 325.330909 190.544118
L 345.512727 190.544118
" clip-path="url(#p34a77fc4bd)" style="fill: none; stroke-dasharray: 3.26,1.41; stroke-dashoffset: 0; stroke: #ffc0cb; stroke-width: 1.1"/>
<g clip-path="url(#p34a77fc4bd)">
<use href="#mf36503d7b8" x="284.967273" y="190.544118" style="fill: #ffc0cb; stroke: #ffc0cb; stroke-width: 0.6"/>
<use href="#mf36503d7b8" x="305.149091" y="190.544118" style="fill: #ffc0cb; stroke: #ffc0cb; stroke-width: 0.6"/>
<use href="#mf36503d7b8" x="325.330909" y="190.544118" style="fill: #ffc0cb; stroke: #ffc0cb; stroke-width: 0.6"/>
<use href="#mf36503d7b8" x="345.512727" y="190.544118" style="fill: #ffc0cb; stroke: #ffc0cb; stroke-width: 0.6"/>
</g>
</g>
<g id="patch_81">
<path d="M 281.94 262.3
L 281.94 183.6
" style="fill: none; stroke: #000000; stroke-width: 0.5; stroke-linejoin: miter; stroke-linecap: square"/>
</g>
<g id="patch_82">
<path d="M 348.54 262.3
L 348.54 183.6
" style="fill: none; stroke: #000000; stroke-width: 0.5; stroke-linejoin: miter; stroke-linecap: square"/>
</g>
<g id="patch_83">
<path d="M 281.94 262.3
L 348.54 262.3
" style="fill: none; stroke: #000000; stroke-width: 0.5; stroke-linejoin: miter; stroke-linecap: square"/>
</g>
<g id="patch_84">
<path d="M 281.94 183.6
L 348.54 183.6
" style="fill: none; stroke: #000000; stroke-width: 0.5; stroke-linejoin: miter; stroke-linecap: square"/>
</g>
</g>
<g id="axes_17">
<g id="patch_85">
<path d="M 365.72 262.3
L 432.32 262.3
L 432.32 183.6
L 365.72 183.6
z
" style="fill: #ffffff"/>
</g>
<g id="matplotlib.axis_33">
<g id="xtick_65">
<g id="line2d_223">
<g>
<use href="#mc1e7c72a07" x="368.747273" y="262.3" style="stroke: #000000; stroke-width: 0.5"/>
</g>
</g>
<g id="text_120">
<g transform="translate(367.211273 270.44725)">
<text>
<tspan x="0" y="-0.28125" style="font-size: 4.8px; font-family: 'DejaVu Sans', sans-serif">0</tspan>
</text>
</g>
</g>
</g>
<g id="xtick_66">
<g id="line2d_224">
<g>
<use href="#mc1e7c72a07" x="388.929091" y="262.3" style="stroke: #000000; stroke-width: 0.5"/>
</g>
</g>
<g id="text_121">
<g transform="translate(383.289091 270.44725)">
<text>
<tspan x="0" y="-0.482813" style="font-size: 4.8px; font-family: 'DejaVu Sans', sans-serif">1</tspan>
<tspan x="3.022095" y="-0.482813" style="font-size: 4.8px; font-family: 'DejaVu Sans', sans-serif">0</tspan>
<tspan x="6.092041" y="-2.396875" style="font-size: 3.36px; font-family: 'DejaVu Sans', sans-serif">−</tspan>
<tspan x="8.878027" y="-2.396875" style="font-size: 3.36px; font-family: 'DejaVu Sans', sans-serif">2</tspan>
</text>
</g>
</g>
</g>
<g id="xtick_67">
<g id="line2d_225">
<g>
<use href="#mc1e7c72a07" x="409.110909" y="262.3" style="stroke: #000000; stroke-width: 0.5"/>
</g>
</g>
<g id="text_122">
<g transform="translate(399.006909 270.44725)">
<text>
<tspan x="0" y="-0.482813" style="font-size: 4.8px; font-family: 'DejaVu Sans', sans-serif">5</tspan>
<tspan x="3.94751" y="-0.482813" style="font-size: 4.8px; font-family: 'DejaVu Sans', sans-serif">×</tspan>
<tspan x="8.852905" y="-0.482813" style="font-size: 4.8px; font-family: 'DejaVu Sans', sans-serif">1</tspan>
<tspan x="11.875" y="-0.482813" style="font-size: 4.8px; font-family: 'DejaVu Sans', sans-serif">0</tspan>
<tspan x="14.944946" y="-2.396875" style="font-size: 3.36px; font-family: 'DejaVu Sans', sans-serif">−</tspan>
<tspan x="17.730933" y="-2.396875" style="font-size: 3.36px; font-family: 'DejaVu Sans', sans-serif">2</tspan>
</text>
</g>
</g>
</g>
<g id="xtick_68">
<g id="line2d_226">
<g>
<use href="#mc1e7c72a07" x="429.292727" y="262.3" style="stroke: #000000; stroke-width: 0.5"/>
</g>
</g>
<g id="text_123">
<g transform="translate(423.652727 270.44725)">
<text>
<tspan x="0" y="-0.5375" style="font-size: 4.8px; font-family: 'DejaVu Sans', sans-serif">1</tspan>
<tspan x="3.022095" y="-0.5375" style="font-size: 4.8px; font-family: 'DejaVu Sans', sans-serif">0</tspan>
<tspan x="6.092041" y="-2.451563" style="font-size: 3.36px; font-family: 'DejaVu Sans', sans-serif">−</tspan>
<tspan x="8.878027" y="-2.451563" style="font-size: 3.36px; font-family: 'DejaVu Sans', sans-serif">1</tspan>
</text>
</g>
</g>
</g>
</g>
<g id="matplotlib.axis_34">
<g id="ytick_83">
<g id="line2d_227">
<g>
<use href="#mff083b0342" x="365.72" y="262.3" style="stroke: #000000; stroke-width: 0.5"/>
</g>
</g>
<g id="text_124">
<text style="font-size: 6px; font-family: 'DejaVu Sans', sans-serif; text-anchor: end" x="361.92" y="264.579531" transform="rotate(-0 361.92 264.579531)">0.0</text>
</g>
</g>
<g id="ytick_84">
<g id="line2d_228">
<g>
<use href="#mff083b0342" x="365.72" y="246.868627" style="stroke: #000000; stroke-width: 0.5"/>
</g>
</g>
<g id="text_125">
<text style="font-size: 6px; font-family: 'DejaVu Sans', sans-serif; text-anchor: end" x="361.92" y="249.148159" transform="rotate(-0 361.92 249.148159)">0.2</text>
</g>
</g>
<g id="ytick_85">
<g id="line2d_229">
<g>
<use href="#mff083b0342" x="365.72" y="231.437255" style="stroke: #000000; stroke-width: 0.5"/>
</g>
</g>
<g id="text_126">
<text style="font-size: 6px; font-family: 'DejaVu Sans', sans-serif; text-anchor: end" x="361.92" y="233.716786" transform="rotate(-0 361.92 233.716786)">0.4</text>
</g>
</g>
<g id="ytick_86">
<g id="line2d_230">
<g>
<use href="#mff083b0342" x="365.72" y="216.005882" style="stroke: #000000; stroke-width: 0.5"/>
</g>
</g>
<g id="text_127">
<text style="font-size: 6px; font-family: 'DejaVu Sans', sans-serif; text-anchor: end" x="361.92" y="218.285414" transform="rotate(-0 361.92 218.285414)">0.6</text>
</g>
</g>
<g id="ytick_87">
<g id="line2d_231">
<g>
<use href="#mff083b0342" x="365.72" y="200.57451" style="stroke: #000000; stroke-width: 0.5"/>
</g>
</g>
<g id="text_128">
<text style="font-size: 6px; font-family: 'DejaVu Sans', sans-serif; text-anchor: end" x="361.92" y="202.854041" transform="rotate(-0 361.92 202.854041)">0.8</text>
</g>
</g>
<g id="ytick_88">
<g id="line2d_232">
<g>
<use href="#mff083b0342" x="365.72" y="185.143137" style="stroke: #000000; stroke-width: 0.5"/>
</g>
</g>
<g id="text_129">
<text style="font-size: 6px; font-family: 'DejaVu Sans', sans-serif; text-anchor: end" x="361.92" y="187.422669" transform="rotate(-0 361.92 187.422669)">1.0</text>
</g>
</g>
</g>
<g id="line2d_233">
<path d="M 368.747273 185.143137
L 388.929091 185.143137
L 409.110909 185.143137
L 429.292727 185.143137
" clip-path="url(#pdee9444ef6)" style="fill: none; stroke-dasharray: 3.26,1.41; stroke-dashoffset: 0; stroke: #ff0000; stroke-width: 1.1"/>
<g clip-path="url(#pdee9444ef6)">
<use href="#m0c2da7bb96" x="368.747273" y="185.143137" style="fill: #ff0000; stroke: #ff0000; stroke-width: 0.6"/>
<use href="#m0c2da7bb96" x="388.929091" y="185.143137" style="fill: #ff0000; stroke: #ff0000; stroke-width: 0.6"/>
<use href="#m0c2da7bb96" x="409.110909" y="185.143137" style="fill: #ff0000; stroke: #ff0000; stroke-width: 0.6"/>
<use href="#m0c2da7bb96" x="429.292727" y="185.143137" style="fill: #ff0000; stroke: #ff0000; stroke-width: 0.6"/>
</g>
</g>
<g id="line2d_234">
<path d="M 368.747273 185.143137
L 388.929091 215.465784
L 409.110909 214.385588
L 429.292727 213.305392
" clip-path="url(#pdee9444ef6)" style="fill: none; stroke-dasharray: 3.26,1.41; stroke-dashoffset: 0; stroke: #1f77b4; stroke-width: 1.1"/>
<g clip-path="url(#pdee9444ef6)">
<use href="#mdfa1281d99" x="368.747273" y="185.143137" style="fill: #1f77b4; stroke: #1f77b4; stroke-width: 0.6"/>
<use href="#mdfa1281d99" x="388.929091" y="215.465784" style="fill: #1f77b4; stroke: #1f77b4; stroke-width: 0.6"/>
<use href="#mdfa1281d99" x="409.110909" y="214.385588" style="fill: #1f77b4; stroke: #1f77b4; stroke-width: 0.6"/>
<use href="#mdfa1281d99" x="429.292727" y="213.305392" style="fill: #1f77b4; stroke: #1f77b4; stroke-width: 0.6"/>
</g>
</g>
<g id="line2d_235">
<path d="M 368.747273 185.143137
L 388.929091 194.17049
L 409.110909 190.544118
L 429.292727 193.630392
" clip-path="url(#pdee9444ef6)" style="fill: none; stroke-dasharray: 3.26,1.41; stroke-dashoffset: 0; stroke: #008000; stroke-width: 1.1"/>
<g clip-path="url(#pdee9444ef6)">
<use href="#mad946ed612" x="368.747273" y="185.143137" style="fill: #008000; stroke: #008000; stroke-width: 0.6"/>
<use href="#mad946ed612" x="388.929091" y="194.17049" style="fill: #008000; stroke: #008000; stroke-width: 0.6"/>
<use href="#mad946ed612" x="409.110909" y="190.544118" style="fill: #008000; stroke: #008000; stroke-width: 0.6"/>
<use href="#mad946ed612" x="429.292727" y="193.630392" style="fill: #008000; stroke: #008000; stroke-width: 0.6"/>
</g>
</g>
<g id="line2d_236">
<path d="M 368.747273 185.143137
L 388.929091 190.00402
L 409.110909 192.627353
L 429.292727 194.17049
" clip-path="url(#pdee9444ef6)" style="fill: none; stroke-dasharray: 3.26,1.41; stroke-dashoffset: 0; stroke: #ffc0cb; stroke-width: 1.1"/>
<g clip-path="url(#pdee9444ef6)">
<use href="#mf36503d7b8" x="368.747273" y="185.143137" style="fill: #ffc0cb; stroke: #ffc0cb; stroke-width: 0.6"/>
<use href="#mf36503d7b8" x="388.929091" y="190.00402" style="fill: #ffc0cb; stroke: #ffc0cb; stroke-width: 0.6"/>
<use href="#mf36503d7b8" x="409.110909" y="192.627353" style="fill: #ffc0cb; stroke: #ffc0cb; stroke-width: 0.6"/>
<use href="#mf36503d7b8" x="429.292727" y="194.17049" style="fill: #ffc0cb; stroke: #ffc0cb; stroke-width: 0.6"/>
</g>
</g>
<g id="patch_86">
<path d="M 365.72 262.3
L 365.72 183.6
" style="fill: none; stroke: #000000; stroke-width: 0.5; stroke-linejoin: miter; stroke-linecap: square"/>
</g>
<g id="patch_87">
<path d="M 432.32 262.3
L 432.32 183.6
" style="fill: none; stroke: #000000; stroke-width: 0.5; stroke-linejoin: miter; stroke-linecap: square"/>
</g>
<g id="patch_88">
<path d="M 365.72 262.3
L 432.32 262.3
" style="fill: none; stroke: #000000; stroke-width: 0.5; stroke-linejoin: miter; stroke-linecap: square"/>
</g>
<g id="patch_89">
<path d="M 365.72 183.6
L 432.32 183.6
" style="fill: none; stroke: #000000; stroke-width: 0.5; stroke-linejoin: miter; stroke-linecap: square"/>
</g>
</g>
<g id="axes_18">
<g id="patch_90">
<path d="M 449.5 262.3
L 516.1 262.3
L 516.1 183.6
L 449.5 183.6
z
" style="fill: #ffffff"/>
</g>
<g id="matplotlib.axis_35">
<g id="xtick_69">
<g id="line2d_237">
<g>
<use href="#mc1e7c72a07" x="452.527273" y="262.3" style="stroke: #000000; stroke-width: 0.5"/>
</g>
</g>
<g id="text_130">
<g transform="translate(450.991273 270.44725)">
<text>
<tspan x="0" y="-0.28125" style="font-size: 4.8px; font-family: 'DejaVu Sans', sans-serif">0</tspan>
</text>
</g>
</g>
</g>
<g id="xtick_70">
<g id="line2d_238">
<g>
<use href="#mc1e7c72a07" x="472.709091" y="262.3" style="stroke: #000000; stroke-width: 0.5"/>
</g>
</g>
<g id="text_131">
<g transform="translate(467.069091 270.44725)">
<text>
<tspan x="0" y="-0.482813" style="font-size: 4.8px; font-family: 'DejaVu Sans', sans-serif">1</tspan>
<tspan x="3.022095" y="-0.482813" style="font-size: 4.8px; font-family: 'DejaVu Sans', sans-serif">0</tspan>
<tspan x="6.092041" y="-2.396875" style="font-size: 3.36px; font-family: 'DejaVu Sans', sans-serif">−</tspan>
<tspan x="8.878027" y="-2.396875" style="font-size: 3.36px; font-family: 'DejaVu Sans', sans-serif">2</tspan>
</text>
</g>
</g>
</g>
<g id="xtick_71">
<g id="line2d_239">
<g>
<use href="#mc1e7c72a07" x="492.890909" y="262.3" style="stroke: #000000; stroke-width: 0.5"/>
</g>
</g>
<g id="text_132">
<g transform="translate(482.786909 270.44725)">
<text>
<tspan x="0" y="-0.482813" style="font-size: 4.8px; font-family: 'DejaVu Sans', sans-serif">5</tspan>
<tspan x="3.94751" y="-0.482813" style="font-size: 4.8px; font-family: 'DejaVu Sans', sans-serif">×</tspan>
<tspan x="8.852905" y="-0.482813" style="font-size: 4.8px; font-family: 'DejaVu Sans', sans-serif">1</tspan>
<tspan x="11.875" y="-0.482813" style="font-size: 4.8px; font-family: 'DejaVu Sans', sans-serif">0</tspan>
<tspan x="14.944946" y="-2.396875" style="font-size: 3.36px; font-family: 'DejaVu Sans', sans-serif">−</tspan>
<tspan x="17.730933" y="-2.396875" style="font-size: 3.36px; font-family: 'DejaVu Sans', sans-serif">2</tspan>
</text>
</g>
</g>
</g>
<g id="xtick_72">
<g id="line2d_240">
<g>
<use href="#mc1e7c72a07" x="513.072727" y="262.3" style="stroke: #000000; stroke-width: 0.5"/>
</g>
</g>
<g id="text_133">
<g transform="translate(507.432727 270.44725)">
<text>
<tspan x="0" y="-0.5375" style="font-size: 4.8px; font-family: 'DejaVu Sans', sans-serif">1</tspan>
<tspan x="3.022095" y="-0.5375" style="font-size: 4.8px; font-family: 'DejaVu Sans', sans-serif">0</tspan>
<tspan x="6.092041" y="-2.451563" style="font-size: 3.36px; font-family: 'DejaVu Sans', sans-serif">−</tspan>
<tspan x="8.878027" y="-2.451563" style="font-size: 3.36px; font-family: 'DejaVu Sans', sans-serif">1</tspan>
</text>
</g>
</g>
</g>
</g>
<g id="matplotlib.axis_36">
<g id="ytick_89">
<g id="line2d_241">
<g>
<use href="#mff083b0342" x="449.5" y="262.3" style="stroke: #000000; stroke-width: 0.5"/>
</g>
</g>
<g id="text_134">
<text style="font-size: 6px; font-family: 'DejaVu Sans', sans-serif; text-anchor: end" x="445.7" y="264.579531" transform="rotate(-0 445.7 264.579531)">0.0</text>
</g>
</g>
<g id="ytick_90">
<g id="line2d_242">
<g>
<use href="#mff083b0342" x="449.5" y="246.868627" style="stroke: #000000; stroke-width: 0.5"/>
</g>
</g>
<g id="text_135">
<text style="font-size: 6px; font-family: 'DejaVu Sans', sans-serif; text-anchor: end" x="445.7" y="249.148159" transform="rotate(-0 445.7 249.148159)">0.2</text>
</g>
</g>
<g id="ytick_91">
<g id="line2d_243">
<g>
<use href="#mff083b0342" x="449.5" y="231.437255" style="stroke: #000000; stroke-width: 0.5"/>
</g>
</g>
<g id="text_136">
<text style="font-size: 6px; font-family: 'DejaVu Sans', sans-serif; text-anchor: end" x="445.7" y="233.716786" transform="rotate(-0 445.7 233.716786)">0.4</text>
</g>
</g>
<g id="ytick_92">
<g id="line2d_244">
<g>
<use href="#mff083b0342" x="449.5" y="216.005882" style="stroke: #000000; stroke-width: 0.5"/>
</g>
</g>
<g id="text_137">
<text style="font-size: 6px; font-family: 'DejaVu Sans', sans-serif; text-anchor: end" x="445.7" y="218.285414" transform="rotate(-0 445.7 218.285414)">0.6</text>
</g>
</g>
<g id="ytick_93">
<g id="line2d_245">
<g>
<use href="#mff083b0342" x="449.5" y="200.57451" style="stroke: #000000; stroke-width: 0.5"/>
</g>
</g>
<g id="text_138">
<text style="font-size: 6px; font-family: 'DejaVu Sans', sans-serif; text-anchor: end" x="445.7" y="202.854041" transform="rotate(-0 445.7 202.854041)">0.8</text>
</g>
</g>
<g id="ytick_94">
<g id="line2d_246">
<g>
<use href="#mff083b0342" x="449.5" y="185.143137" style="stroke: #000000; stroke-width: 0.5"/>
</g>
</g>
<g id="text_139">
<text style="font-size: 6px; font-family: 'DejaVu Sans', sans-serif; text-anchor: end" x="445.7" y="187.422669" transform="rotate(-0 445.7 187.422669)">1.0</text>
</g>
</g>
</g>
<g id="line2d_247">
<path d="M 452.527273 185.143137
L 472.709091 185.143137
L 492.890909 185.143137
L 513.072727 185.143137
" clip-path="url(#p40ff9d141d)" style="fill: none; stroke-dasharray: 3.26,1.41; stroke-dashoffset: 0; stroke: #ff0000; stroke-width: 1.1"/>
<g clip-path="url(#p40ff9d141d)">
<use href="#m0c2da7bb96" x="452.527273" y="185.143137" style="fill: #ff0000; stroke: #ff0000; stroke-width: 0.6"/>
<use href="#m0c2da7bb96" x="472.709091" y="185.143137" style="fill: #ff0000; stroke: #ff0000; stroke-width: 0.6"/>
<use href="#m0c2da7bb96" x="492.890909" y="185.143137" style="fill: #ff0000; stroke: #ff0000; stroke-width: 0.6"/>
<use href="#m0c2da7bb96" x="513.072727" y="185.143137" style="fill: #ff0000; stroke: #ff0000; stroke-width: 0.6"/>
</g>
</g>
<g id="line2d_248">
<path d="M 452.527273 186.686275
L 472.709091 219.400784
L 492.890909 245.016863
L 513.072727 234.677843
" clip-path="url(#p40ff9d141d)" style="fill: none; stroke-dasharray: 3.26,1.41; stroke-dashoffset: 0; stroke: #1f77b4; stroke-width: 1.1"/>
<g clip-path="url(#p40ff9d141d)">
<use href="#mdfa1281d99" x="452.527273" y="186.686275" style="fill: #1f77b4; stroke: #1f77b4; stroke-width: 0.6"/>
<use href="#mdfa1281d99" x="472.709091" y="219.400784" style="fill: #1f77b4; stroke: #1f77b4; stroke-width: 0.6"/>
<use href="#mdfa1281d99" x="492.890909" y="245.016863" style="fill: #1f77b4; stroke: #1f77b4; stroke-width: 0.6"/>
<use href="#mdfa1281d99" x="513.072727" y="234.677843" style="fill: #1f77b4; stroke: #1f77b4; stroke-width: 0.6"/>
</g>
</g>
<g id="line2d_249">
<path d="M 452.527273 186.686275
L 472.709091 205.97549
L 492.890909 229.045392
L 513.072727 225.496176
" clip-path="url(#p40ff9d141d)" style="fill: none; stroke-dasharray: 3.26,1.41; stroke-dashoffset: 0; stroke: #008000; stroke-width: 1.1"/>
<g clip-path="url(#p40ff9d141d)">
<use href="#mad946ed612" x="452.527273" y="186.686275" style="fill: #008000; stroke: #008000; stroke-width: 0.6"/>
<use href="#mad946ed612" x="472.709091" y="205.97549" style="fill: #008000; stroke: #008000; stroke-width: 0.6"/>
<use href="#mad946ed612" x="492.890909" y="229.045392" style="fill: #008000; stroke: #008000; stroke-width: 0.6"/>
<use href="#mad946ed612" x="513.072727" y="225.496176" style="fill: #008000; stroke: #008000; stroke-width: 0.6"/>
</g>
</g>
<g id="line2d_250">
<path d="M 452.527273 186.686275
L 472.709091 213.922647
L 492.890909 211.993725
L 513.072727 227.270784
" clip-path="url(#p40ff9d141d)" style="fill: none; stroke-dasharray: 3.26,1.41; stroke-dashoffset: 0; stroke: #ffc0cb; stroke-width: 1.1"/>
<g clip-path="url(#p40ff9d141d)">
<use href="#mf36503d7b8" x="452.527273" y="186.686275" style="fill: #ffc0cb; stroke: #ffc0cb; stroke-width: 0.6"/>
<use href="#mf36503d7b8" x="472.709091" y="213.922647" style="fill: #ffc0cb; stroke: #ffc0cb; stroke-width: 0.6"/>
<use href="#mf36503d7b8" x="492.890909" y="211.993725" style="fill: #ffc0cb; stroke: #ffc0cb; stroke-width: 0.6"/>
<use href="#mf36503d7b8" x="513.072727" y="227.270784" style="fill: #ffc0cb; stroke: #ffc0cb; stroke-width: 0.6"/>
</g>
</g>
<g id="patch_91">
<path d="M 449.5 262.3
L 449.5 183.6
" style="fill: none; stroke: #000000; stroke-width: 0.5; stroke-linejoin: miter; stroke-linecap: square"/>
</g>
<g id="patch_92">
<path d="M 516.1 262.3
L 516.1 183.6
" style="fill: none; stroke: #000000; stroke-width: 0.5; stroke-linejoin: miter; stroke-linecap: square"/>
</g>
<g id="patch_93">
<path d="M 449.5 262.3
L 516.1 262.3
" style="fill: none; stroke: #000000; stroke-width: 0.5; stroke-linejoin: miter; stroke-linecap: square"/>
</g>
<g id="patch_94">
<path d="M 449.5 183.6
L 516.1 183.6
" style="fill: none; stroke: #000000; stroke-width: 0.5; stroke-linejoin: miter; stroke-linecap: square"/>
</g>
</g>
</g>
<defs>
<clipPath id="p066afcdd0b">
<rect x="30.6" y="10" width="66.6" height="78.7"/>
</clipPath>
<clipPath id="pb746cd22af">
<rect x="114.38" y="10" width="66.6" height="78.7"/>
</clipPath>
<clipPath id="p86863a7c96">
<rect x="198.16" y="10" width="66.6" height="78.7"/>
</clipPath>
<clipPath id="p676d39e075">
<rect x="281.94" y="10" width="66.6" height="78.7"/>
</clipPath>
<clipPath id="p4946559e43">
<rect x="365.72" y="10" width="66.6" height="78.7"/>
</clipPath>
<clipPath id="pd8175d599f">
<rect x="449.5" y="10" width="66.6" height="78.7"/>
</clipPath>
<clipPath id="p2d56bb1da3">
<rect x="30.6" y="96.7" width="66.6" height="78.7"/>
</clipPath>
<clipPath id="p05727c8c83">
<rect x="114.38" y="96.7" width="66.6" height="78.7"/>
</clipPath>
<clipPath id="p63350c313e">
<rect x="198.16" y="96.7" width="66.6" height="78.7"/>
</clipPath>
<clipPath id="pf7e096f766">
<rect x="281.94" y="96.7" width="66.6" height="78.7"/>
</clipPath>
<clipPath id="p0e6f5938c1">
<rect x="365.72" y="96.7" width="66.6" height="78.7"/>
</clipPath>
<clipPath id="p6c2de96767">
<rect x="449.5" y="96.7" width="66.6" height="78.7"/>
</clipPath>
<clipPath id="p6de2bad4ea">
<rect x="30.6" y="183.6" width="66.6" height="78.7"/>
</clipPath>
<clipPath id="p6d6afd3929">
<rect x="114.38" y="183.6" width="66.6" height="78.7"/>
</clipPath>
<clipPath id="pce1ca88837">
<rect x="198.16" y="183.6" width="66.6" height="78.7"/>
</clipPath>
<clipPath id="p34a77fc4bd">
<rect x="281.94" y="183.6" width="66.6" height="78.7"/>
</clipPath>
<clipPath id="pdee9444ef6">
<rect x="365.72" y="183.6" width="66.6" height="78.7"/>
</clipPath>
<clipPath id="p40ff9d141d">
<rect x="449.5" y="183.6" width="66.6" height="78.7"/>
</clipPath>
</defs>
</svg>

</body></html>
